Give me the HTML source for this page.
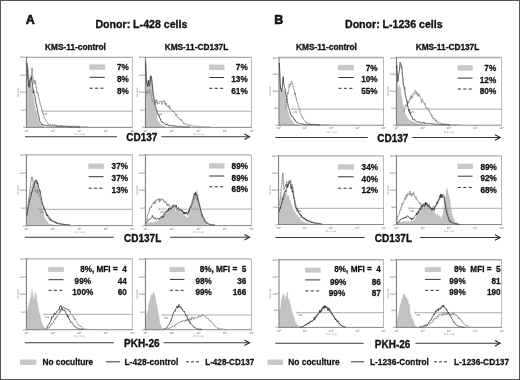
<!DOCTYPE html>
<html><head><meta charset="utf-8"><title>Figure</title>
<style>
html,body{margin:0;padding:0;background:#fff;width:520px;height:380px;overflow:hidden}
svg{display:block}
text{font-family:"Liberation Sans", Arial, Helvetica, sans-serif;} .t{text-rendering:geometricPrecision}
</style></head><body>
<svg width="520" height="380" viewBox="0 0 520 380">
<rect x="0" y="0" width="520" height="380" fill="#fff"/>
<polygon points="26.70,127.40 26.50,60.20 26.92,64.45 27.34,69.18 27.76,71.67 28.18,68.10 28.60,66.79 29.02,75.80 29.44,78.13 29.86,80.23 30.28,74.35 30.70,80.96 31.12,84.71 31.54,86.64 31.96,89.13 32.38,89.13 32.80,94.60 33.22,96.27 33.64,98.10 34.06,102.20 34.48,104.33 34.90,106.72 35.32,107.55 35.74,112.23 36.16,110.04 36.58,112.53 37.00,114.62 37.42,114.99 37.84,118.63 38.26,119.62 38.68,121.62 39.10,122.13 39.52,122.92 39.94,123.27 40.36,124.25 40.78,124.34 41.20,125.35 41.62,125.82 42.04,126.51 42.46,126.33 42.88,126.05 43.30,126.67 43.72,126.43 44.14,126.90 44.56,126.90 44.98,126.77 45.00,127.00 45.00,127.40" fill="#c2c2c2" stroke="#b4b4b4" stroke-width="0.35"/>
<polygon points="145.70,127.40 145.60,58.63 146.02,71.70 146.44,80.50 146.86,84.99 147.28,81.11 147.70,80.25 148.12,81.56 148.54,82.23 148.96,81.36 149.38,76.51 149.80,77.28 150.22,79.09 150.64,74.74 151.06,74.85 151.48,76.58 151.90,78.62 152.32,87.15 152.74,85.42 153.16,93.75 153.58,97.70 154.00,102.81 154.42,104.19 154.84,103.67 155.26,106.76 155.68,110.71 156.10,112.40 156.52,114.19 156.94,117.32 157.36,119.31 157.78,121.97 158.20,121.11 158.62,121.46 159.04,121.94 159.46,123.52 159.88,124.31 160.30,123.87 160.72,124.32 161.14,124.93 161.56,125.03 161.98,125.21 162.40,125.71 162.82,125.90 163.24,127.06 163.66,126.18 164.08,125.99 164.50,126.51 164.92,126.57 165.34,126.84 165.76,126.79 166.00,127.00 166.00,127.40" fill="#c2c2c2" stroke="#b4b4b4" stroke-width="0.35"/>
<polygon points="279.30,125.20 279.30,63.36 279.72,74.41 280.14,82.27 280.56,86.08 280.98,88.76 281.40,88.88 281.82,89.12 282.24,87.05 282.66,89.04 283.08,90.94 283.50,91.17 283.92,89.81 284.34,93.09 284.76,91.49 285.18,96.82 285.60,97.78 286.02,100.13 286.44,104.90 286.86,107.13 287.28,108.02 287.70,110.42 288.12,111.67 288.54,113.41 288.96,114.74 289.38,116.23 289.80,118.20 290.22,118.32 290.64,118.28 291.06,120.21 291.48,119.69 291.90,120.95 292.32,121.03 292.74,121.72 293.16,122.79 293.58,123.87 294.00,123.73 294.42,123.22 294.84,123.87 295.26,124.67 295.68,124.01 296.10,124.00 296.52,124.39 296.94,124.36 297.36,124.77 297.78,124.83 298.00,125.00 298.00,125.20" fill="#c2c2c2" stroke="#b4b4b4" stroke-width="0.35"/>
<polygon points="396.70,125.20 396.60,58.76 397.02,70.84 397.44,79.23 397.86,85.64 398.28,88.66 398.70,86.58 399.12,90.94 399.54,84.03 399.96,89.32 400.38,87.49 400.80,91.98 401.22,97.20 401.64,95.94 402.06,98.34 402.48,101.90 402.90,106.67 403.32,103.93 403.74,107.52 404.16,108.50 404.58,111.94 405.00,114.49 405.42,115.42 405.84,114.53 406.26,114.63 406.68,116.46 407.10,118.04 407.52,117.67 407.94,118.07 408.36,120.00 408.78,119.36 409.20,120.66 409.62,119.87 410.04,120.72 410.46,120.56 410.88,120.85 411.30,121.65 411.72,122.17 412.14,120.88 412.56,122.07 412.98,121.56 413.40,122.08 413.82,122.23 414.24,122.40 414.66,123.21 415.08,121.63 415.50,123.36 415.92,122.89 416.34,123.63 416.76,122.62 417.18,123.46 417.60,124.06 418.02,123.61 418.44,123.76 418.86,124.14 419.28,124.82 419.70,124.62 420.12,124.31 420.54,124.23 420.96,124.78 421.38,124.71 421.80,124.51 422.22,124.86 422.64,124.62 423.06,124.94 423.48,124.68 423.90,124.78 424.32,124.90 424.74,125.12 425.00,125.00 425.00,125.20" fill="#c2c2c2" stroke="#b4b4b4" stroke-width="0.35"/>
<polygon points="26.70,225.60 26.60,216.24 27.02,214.36 27.44,211.89 27.86,210.20 28.28,206.15 28.70,205.50 29.12,205.03 29.54,200.69 29.96,194.85 30.38,189.96 30.80,190.45 31.22,191.20 31.64,185.89 32.06,184.44 32.48,184.52 32.90,184.83 33.32,189.21 33.74,182.06 34.16,185.39 34.58,184.88 35.00,186.26 35.42,184.43 35.84,179.78 36.26,179.97 36.68,182.66 37.10,182.30 37.52,181.92 37.94,183.97 38.36,186.87 38.78,192.34 39.20,190.37 39.62,191.91 40.04,193.88 40.46,198.75 40.88,201.70 41.30,202.04 41.72,204.55 42.14,207.40 42.56,208.85 42.98,210.54 43.40,212.94 43.82,214.44 44.24,218.73 44.66,217.72 45.08,217.68 45.50,219.38 45.92,219.86 46.34,220.92 46.76,221.08 47.18,222.40 47.60,221.76 48.02,223.42 48.44,224.22 48.86,223.91 49.28,223.63 49.70,224.28 50.12,224.11 50.54,224.58 50.96,224.06 51.38,224.75 51.80,224.43 52.22,225.05 52.64,224.78 53.06,224.67 53.48,225.07 53.90,224.94 54.32,225.52 54.74,225.03 55.00,225.30 55.00,225.60" fill="#c2c2c2" stroke="#b4b4b4" stroke-width="0.35"/>
<polygon points="145.70,225.60 145.60,223.06 146.02,222.36 146.44,222.66 146.86,222.79 147.28,222.79 147.70,223.47 148.12,222.78 148.54,223.61 148.96,222.64 149.38,222.91 149.80,223.99 150.22,222.53 150.64,222.92 151.06,221.94 151.48,222.92 151.90,223.08 152.32,222.63 152.74,222.92 153.16,223.09 153.58,222.87 154.00,221.75 154.42,222.92 154.84,222.73 155.26,221.06 155.68,222.42 156.10,221.69 156.52,222.30 156.94,221.38 157.36,221.20 157.78,221.98 158.20,221.28 158.62,221.12 159.04,218.50 159.46,219.67 159.88,218.71 160.30,219.79 160.72,218.91 161.14,216.78 161.56,217.05 161.98,217.06 162.40,214.56 162.82,214.66 163.24,215.26 163.66,214.08 164.08,213.74 164.50,213.55 164.92,211.21 165.34,213.15 165.76,212.48 166.18,211.85 166.60,211.33 167.02,210.64 167.44,210.72 167.86,210.36 168.28,210.47 168.70,210.60 169.12,208.71 169.54,210.67 169.96,210.42 170.38,208.67 170.80,209.38 171.22,209.56 171.64,208.23 172.06,209.05 172.48,209.72 172.90,209.76 173.32,209.65 173.74,209.19 174.16,207.37 174.58,209.73 175.00,211.28 175.42,211.06 175.84,210.49 176.26,210.35 176.68,211.97 177.10,211.37 177.52,210.22 177.94,212.15 178.36,211.32 178.78,211.07 179.20,211.07 179.62,212.76 180.04,211.63 180.46,213.23 180.88,212.44 181.30,211.42 181.72,213.26 182.14,213.49 182.56,214.78 182.98,211.62 183.40,214.05 183.82,216.35 184.24,216.02 184.66,215.28 185.08,216.66 185.50,215.97 185.92,216.23 186.34,218.95 186.76,217.53 187.18,216.88 187.60,218.42 188.02,218.24 188.44,217.38 188.86,217.35 189.28,214.43 189.70,212.54 190.12,213.70 190.54,210.23 190.96,211.88 191.38,209.34 191.80,205.34 192.22,202.92 192.64,200.93 193.06,198.82 193.48,200.33 193.90,197.90 194.32,195.86 194.74,194.78 195.16,193.89 195.58,191.94 196.00,192.90 196.42,190.85 196.84,190.27 197.26,193.10 197.68,194.89 198.10,194.37 198.52,200.52 198.94,203.82 199.36,206.77 199.78,208.41 200.20,209.94 200.62,211.62 201.04,213.91 201.46,214.20 201.88,214.50 202.30,216.92 202.72,217.73 203.14,219.91 203.56,219.42 203.98,222.02 204.40,222.68 204.82,222.75 205.24,223.28 205.66,223.27 206.08,223.61 206.50,224.11 206.92,224.14 207.34,224.75 207.76,225.03 208.00,225.00 208.00,225.60" fill="#c2c2c2" stroke="#b4b4b4" stroke-width="0.35"/>
<polygon points="278.90,224.50 278.90,212.48 279.32,210.32 279.74,207.38 280.16,206.19 280.58,204.67 281.00,200.50 281.42,202.17 281.84,196.21 282.26,200.28 282.68,195.38 283.10,195.70 283.52,197.35 283.94,192.98 284.36,192.72 284.78,193.50 285.20,195.90 285.62,189.36 286.04,191.92 286.46,191.16 286.88,194.35 287.30,196.45 287.72,197.49 288.14,195.53 288.56,195.11 288.98,197.76 289.40,200.33 289.82,199.86 290.24,200.75 290.66,204.47 291.08,203.43 291.50,206.23 291.92,205.29 292.34,207.46 292.76,207.72 293.18,208.82 293.60,210.89 294.02,212.28 294.44,210.25 294.86,213.02 295.28,212.59 295.70,214.08 296.12,214.79 296.54,215.26 296.96,216.90 297.38,214.13 297.80,217.51 298.22,216.79 298.64,218.44 299.06,216.79 299.48,218.57 299.90,219.82 300.32,219.04 300.74,219.42 301.16,220.25 301.58,221.73 302.00,221.40 302.42,220.86 302.84,220.96 303.26,222.35 303.68,222.27 304.10,221.92 304.52,222.70 304.94,222.25 305.36,222.98 305.78,222.48 306.20,222.75 306.62,223.06 307.04,223.61 307.46,222.84 307.88,224.14 308.30,223.63 308.72,223.67 309.14,223.59 309.56,223.93 309.98,223.79 310.40,224.00 310.82,224.06 311.24,224.39 311.66,223.75 312.08,223.96 312.50,224.12 312.92,224.38 313.34,223.95 313.76,224.17 314.00,224.30 314.00,224.50" fill="#c2c2c2" stroke="#b4b4b4" stroke-width="0.35"/>
<polygon points="396.70,224.50 396.60,222.12 397.02,221.54 397.44,222.11 397.86,223.33 398.28,222.86 398.70,221.64 399.12,222.48 399.54,221.78 399.96,222.31 400.38,221.42 400.80,221.89 401.22,222.11 401.64,221.72 402.06,222.75 402.48,222.15 402.90,221.87 403.32,221.02 403.74,222.27 404.16,220.82 404.58,221.01 405.00,220.90 405.42,222.19 405.84,222.48 406.26,221.64 406.68,221.30 407.10,221.73 407.52,221.58 407.94,221.66 408.36,221.10 408.78,221.74 409.20,221.92 409.62,221.88 410.04,221.54 410.46,221.77 410.88,221.21 411.30,220.65 411.72,220.53 412.14,221.95 412.56,221.30 412.98,221.09 413.40,220.75 413.82,220.16 414.24,220.89 414.66,220.05 415.08,218.41 415.50,217.92 415.92,217.97 416.34,215.96 416.76,214.48 417.18,214.36 417.60,214.83 418.02,212.81 418.44,211.38 418.86,209.55 419.28,210.01 419.70,210.33 420.12,205.70 420.54,207.28 420.96,207.84 421.38,205.66 421.80,205.27 422.22,206.09 422.64,207.62 423.06,204.85 423.48,206.02 423.90,206.03 424.32,204.55 424.74,204.44 425.16,205.17 425.58,206.02 426.00,202.85 426.42,205.16 426.84,203.09 427.26,205.13 427.68,206.55 428.10,204.83 428.52,204.93 428.94,206.16 429.36,203.30 429.78,205.50 430.20,207.10 430.62,206.90 431.04,208.76 431.46,209.36 431.88,210.26 432.30,210.63 432.72,211.73 433.14,212.00 433.56,210.99 433.98,210.76 434.40,211.40 434.82,213.69 435.24,214.54 435.66,213.67 436.08,214.42 436.50,215.55 436.92,214.42 437.34,214.22 437.76,215.45 438.18,216.12 438.60,215.34 439.02,217.28 439.44,215.33 439.86,216.54 440.28,217.33 440.70,217.67 441.12,219.19 441.54,217.55 441.96,216.57 442.38,215.58 442.80,214.58 443.22,213.73 443.64,207.44 444.06,206.69 444.48,203.37 444.90,201.11 445.32,197.81 445.74,196.59 446.16,193.20 446.58,189.42 447.00,191.07 447.42,188.52 447.84,192.87 448.26,195.77 448.68,194.31 449.10,197.53 449.52,198.23 449.94,200.53 450.36,203.45 450.78,209.03 451.20,209.88 451.62,210.58 452.04,214.10 452.46,216.46 452.88,216.12 453.30,217.97 453.72,218.18 454.14,219.65 454.56,219.82 454.98,222.57 455.40,222.61 455.82,222.07 456.24,222.43 456.66,222.39 457.08,223.69 457.50,223.60 457.92,224.00 458.34,223.90 458.76,224.46 459.18,224.16 459.60,224.35 460.00,224.40 460.00,224.50" fill="#c2c2c2" stroke="#b4b4b4" stroke-width="0.35"/>
<polygon points="26.70,329.70 26.60,314.15 27.02,311.03 27.44,310.26 27.86,308.69 28.28,306.76 28.70,306.97 29.12,302.92 29.54,304.06 29.96,298.98 30.38,298.24 30.80,300.64 31.22,293.64 31.64,294.01 32.06,289.07 32.48,293.39 32.90,296.60 33.32,297.62 33.74,299.41 34.16,299.41 34.58,297.96 35.00,292.70 35.42,295.28 35.84,295.63 36.26,293.20 36.68,300.51 37.10,301.25 37.52,305.42 37.94,305.52 38.36,307.62 38.78,311.77 39.20,312.86 39.62,315.18 40.04,313.46 40.46,317.84 40.88,318.97 41.30,322.24 41.72,323.03 42.14,322.80 42.56,324.78 42.98,326.39 43.40,325.91 43.82,326.94 44.24,328.09 44.66,328.46 45.08,329.04 45.50,329.24 45.92,329.02 46.34,329.53 46.76,329.58 47.00,329.60 47.00,329.70" fill="#c2c2c2" stroke="#b4b4b4" stroke-width="0.35"/>
<polygon points="145.70,329.70 145.60,319.42 146.02,317.20 146.44,314.66 146.86,313.47 147.28,311.53 147.70,310.51 148.12,309.40 148.54,305.40 148.96,303.65 149.38,302.29 149.80,301.48 150.22,299.25 150.64,299.36 151.06,294.45 151.48,296.62 151.90,294.63 152.32,294.58 152.74,295.93 153.16,293.89 153.58,291.81 154.00,293.50 154.42,293.59 154.84,295.65 155.26,297.51 155.68,299.67 156.10,303.41 156.52,304.07 156.94,304.76 157.36,309.46 157.78,309.83 158.20,313.68 158.62,315.03 159.04,317.58 159.46,320.63 159.88,323.64 160.30,324.38 160.72,324.32 161.14,326.24 161.56,328.31 161.98,327.80 162.40,328.27 162.82,329.05 163.24,329.07 163.66,329.46 164.00,329.60 164.00,329.70" fill="#c2c2c2" stroke="#b4b4b4" stroke-width="0.35"/>
<polygon points="279.30,327.40 279.20,317.17 279.62,311.50 280.04,309.00 280.46,310.32 280.88,306.65 281.30,300.37 281.72,300.87 282.14,296.60 282.56,297.46 282.98,293.16 283.40,293.73 283.82,295.71 284.24,295.54 284.66,300.38 285.08,299.80 285.50,300.37 285.92,296.18 286.34,298.95 286.76,293.11 287.18,293.07 287.60,291.99 288.02,297.96 288.44,300.42 288.86,299.24 289.28,299.84 289.70,302.82 290.12,304.05 290.54,305.93 290.96,306.08 291.38,309.32 291.80,311.33 292.22,312.78 292.64,313.61 293.06,315.79 293.48,316.42 293.90,317.18 294.32,318.31 294.74,321.52 295.16,321.64 295.58,322.40 296.00,322.85 296.42,323.09 296.84,324.67 297.26,325.27 297.68,325.12 298.10,325.71 298.52,326.47 298.94,326.39 299.36,326.40 299.78,326.75 300.20,327.18 300.62,327.07 301.00,327.20 301.00,327.40" fill="#c2c2c2" stroke="#b4b4b4" stroke-width="0.35"/>
<polygon points="396.70,327.40 396.60,325.25 397.02,323.03 397.44,317.63 397.86,317.36 398.28,315.17 398.70,313.10 399.12,311.62 399.54,308.25 399.96,307.30 400.38,305.22 400.80,303.64 401.22,303.41 401.64,298.94 402.06,301.25 402.48,298.74 402.90,298.72 403.32,294.98 403.74,294.30 404.16,293.83 404.58,293.94 405.00,296.62 405.42,297.67 405.84,297.12 406.26,299.15 406.68,297.60 407.10,299.60 407.52,300.43 407.94,299.17 408.36,303.15 408.78,306.05 409.20,303.41 409.62,308.77 410.04,312.59 410.46,314.42 410.88,314.32 411.30,315.72 411.72,319.26 412.14,318.78 412.56,319.35 412.98,319.33 413.40,321.31 413.82,322.60 414.24,323.73 414.66,324.97 415.08,325.46 415.50,325.79 415.92,326.28 416.34,326.69 416.76,327.22 417.18,327.30 417.60,327.17 418.00,327.30 418.00,327.40" fill="#c2c2c2" stroke="#b4b4b4" stroke-width="0.35"/>
<line x1="26.40" y1="57.30" x2="132.40" y2="57.30" stroke="#ababab" stroke-width="1.35" />
<line x1="132.40" y1="57.30" x2="132.40" y2="127.40" stroke="#b2b2b2" stroke-width="0.9" />
<line x1="26.40" y1="127.40" x2="132.40" y2="127.40" stroke="#7a7a7a" stroke-width="0.9" />
<line x1="26.40" y1="56.70" x2="26.40" y2="127.90" stroke="#757575" stroke-width="1.0" />
<line x1="24.60" y1="127.40" x2="26.40" y2="127.40" stroke="#777" stroke-width="0.6" />
<text class="t" x="24.40" y="128.40" font-size="2.7" text-anchor="end" font-weight="normal" fill="#555" >0</text>
<line x1="24.60" y1="109.88" x2="26.40" y2="109.88" stroke="#777" stroke-width="0.6" />
<text class="t" x="24.40" y="110.88" font-size="2.7" text-anchor="end" font-weight="normal" fill="#555" >50</text>
<line x1="24.60" y1="92.35" x2="26.40" y2="92.35" stroke="#777" stroke-width="0.6" />
<text class="t" x="24.40" y="93.35" font-size="2.7" text-anchor="end" font-weight="normal" fill="#555" >100</text>
<line x1="24.60" y1="74.83" x2="26.40" y2="74.83" stroke="#777" stroke-width="0.6" />
<text class="t" x="24.40" y="75.83" font-size="2.7" text-anchor="end" font-weight="normal" fill="#555" >150</text>
<line x1="24.60" y1="57.30" x2="26.40" y2="57.30" stroke="#777" stroke-width="0.6" />
<text class="t" x="24.40" y="58.30" font-size="2.7" text-anchor="end" font-weight="normal" fill="#555" >200</text>
<line x1="26.40" y1="127.40" x2="26.40" y2="128.40" stroke="#888" stroke-width="0.5" />
<text class="t" x="26.40" y="131.60" font-size="3.0" text-anchor="middle" font-weight="normal" fill="#666" >10<tspan font-size="2" dy="-1">0</tspan></text>
<line x1="52.90" y1="127.40" x2="52.90" y2="128.40" stroke="#888" stroke-width="0.5" />
<text class="t" x="52.90" y="131.60" font-size="3.0" text-anchor="middle" font-weight="normal" fill="#666" >10<tspan font-size="2" dy="-1">1</tspan></text>
<line x1="79.40" y1="127.40" x2="79.40" y2="128.40" stroke="#888" stroke-width="0.5" />
<text class="t" x="79.40" y="131.60" font-size="3.0" text-anchor="middle" font-weight="normal" fill="#666" >10<tspan font-size="2" dy="-1">2</tspan></text>
<line x1="105.90" y1="127.40" x2="105.90" y2="128.40" stroke="#888" stroke-width="0.5" />
<text class="t" x="105.90" y="131.60" font-size="3.0" text-anchor="middle" font-weight="normal" fill="#666" >10<tspan font-size="2" dy="-1">3</tspan></text>
<line x1="132.40" y1="127.40" x2="132.40" y2="128.40" stroke="#888" stroke-width="0.5" />
<text class="t" x="132.40" y="131.60" font-size="3.0" text-anchor="middle" font-weight="normal" fill="#666" >10<tspan font-size="2" dy="-1">4</tspan></text>
<text class="t" x="79.40" y="135.00" font-size="2.8" text-anchor="middle" font-weight="normal" fill="#999" >FL1-Log</text>
<text class="t" x="18.90" y="92.35" font-size="3.0" text-anchor="middle" font-weight="normal" fill="#888" transform="rotate(-90 18.90 92.35)">Counts</text>
<line x1="42.00" y1="111.20" x2="132.40" y2="111.20" stroke="#8a8a8a" stroke-width="0.7" />
<line x1="42.00" y1="110.00" x2="42.00" y2="112.40" stroke="#8a8a8a" stroke-width="0.6" />
<text class="t" x="43.50" y="114.80" font-size="2.8" text-anchor="start" font-weight="normal" fill="#666" >M1</text>
<polyline points="27.00,64.76 27.42,68.88 27.84,73.80 28.26,75.13 28.68,80.99 29.10,83.14 29.52,84.40 29.94,86.38 30.36,86.74 30.78,81.97 31.20,77.52 31.62,74.54 32.04,67.78 32.46,74.48 32.88,77.27 33.30,80.11 33.72,80.38 34.14,84.07 34.56,80.77 34.98,80.12 35.40,81.52 35.82,84.89 36.24,87.84 36.66,91.18 37.08,93.32 37.50,91.81 37.92,94.12 38.34,93.91 38.76,98.61 39.18,98.54 39.60,100.96 40.02,102.97 40.44,104.76 40.86,104.75 41.28,106.79 41.70,108.96 42.12,111.96 42.54,111.95 42.96,113.25 43.38,115.32 43.80,116.92 44.22,117.23 44.64,118.58 45.06,119.45 45.48,119.37 45.90,121.53 46.32,121.70 46.74,122.26 47.16,122.57 47.58,122.49 48.00,124.45 48.42,124.11 48.84,124.15 49.26,124.49 49.68,124.54 50.10,125.01 50.52,124.37 50.94,125.10 51.36,125.30 51.78,124.85 52.20,124.80 52.62,124.50 53.04,125.38 53.46,124.96 53.88,124.87 54.30,125.47 54.72,124.89 55.14,124.46 55.56,125.42 55.98,125.59 56.40,125.32 56.82,126.04 57.24,125.86 57.66,125.11 58.08,126.12 58.50,125.82 58.92,125.54 59.34,126.02 59.76,125.65 60.18,126.01 60.60,125.60 61.02,126.20 61.44,125.74 61.86,125.86 62.28,125.90 62.70,126.10 63.12,125.58 63.54,126.02 63.96,125.75 64.38,126.07 64.80,126.39 65.22,126.16 65.64,126.39 66.06,126.09 66.48,125.92 66.90,126.36 67.32,126.14 67.74,126.06 68.16,126.16 68.58,126.16 69.00,126.80 69.42,125.97 69.84,126.66 70.26,125.91 70.68,126.07 71.10,125.89 71.52,126.37 71.94,126.44 72.36,126.44 72.78,126.15 73.20,126.33 73.62,125.90 74.04,126.30 74.46,126.62 74.88,126.50 75.30,126.23 75.72,126.13 76.14,126.21 76.56,126.16 76.98,126.62 77.40,126.14 77.82,126.67 78.24,126.54 78.66,126.61 79.08,126.72 79.50,126.59 79.92,126.26 80.34,126.69 80.76,126.25 81.18,126.52 81.60,126.86 82.02,126.79 82.44,126.71 82.86,126.74 83.28,126.78 83.70,126.60 84.12,126.74 84.54,126.61 84.96,126.68 85.38,126.94 85.80,126.78 86.22,126.89 86.64,126.99 87.06,126.87 87.48,126.82 87.90,126.89 88.00,127.00" fill="none" stroke="#a8a8a8" stroke-width="0.9" stroke-linejoin="round"/>
<polyline points="27.00,64.76 27.42,68.88 27.84,73.80 28.26,75.13 28.68,80.99 29.10,83.14 29.52,84.40 29.94,86.38 30.36,86.74 30.78,81.97 31.20,77.52 31.62,74.54 32.04,67.78 32.46,74.48 32.88,77.27 33.30,80.11 33.72,80.38 34.14,84.07 34.56,80.77 34.98,80.12 35.40,81.52 35.82,84.89 36.24,87.84 36.66,91.18 37.08,93.32 37.50,91.81 37.92,94.12 38.34,93.91 38.76,98.61 39.18,98.54 39.60,100.96 40.02,102.97 40.44,104.76 40.86,104.75 41.28,106.79 41.70,108.96 42.12,111.96 42.54,111.95 42.96,113.25 43.38,115.32 43.80,116.92 44.22,117.23 44.64,118.58 45.06,119.45 45.48,119.37 45.90,121.53 46.32,121.70 46.74,122.26 47.16,122.57 47.58,122.49 48.00,124.45 48.42,124.11 48.84,124.15 49.26,124.49 49.68,124.54 50.10,125.01 50.52,124.37 50.94,125.10 51.36,125.30 51.78,124.85 52.20,124.80 52.62,124.50 53.04,125.38 53.46,124.96 53.88,124.87 54.30,125.47 54.72,124.89 55.14,124.46 55.56,125.42 55.98,125.59 56.40,125.32 56.82,126.04 57.24,125.86 57.66,125.11 58.08,126.12 58.50,125.82 58.92,125.54 59.34,126.02 59.76,125.65 60.18,126.01 60.60,125.60 61.02,126.20 61.44,125.74 61.86,125.86 62.28,125.90 62.70,126.10 63.12,125.58 63.54,126.02 63.96,125.75 64.38,126.07 64.80,126.39 65.22,126.16 65.64,126.39 66.06,126.09 66.48,125.92 66.90,126.36 67.32,126.14 67.74,126.06 68.16,126.16 68.58,126.16 69.00,126.80 69.42,125.97 69.84,126.66 70.26,125.91 70.68,126.07 71.10,125.89 71.52,126.37 71.94,126.44 72.36,126.44 72.78,126.15 73.20,126.33 73.62,125.90 74.04,126.30 74.46,126.62 74.88,126.50 75.30,126.23 75.72,126.13 76.14,126.21 76.56,126.16 76.98,126.62 77.40,126.14 77.82,126.67 78.24,126.54 78.66,126.61 79.08,126.72 79.50,126.59 79.92,126.26 80.34,126.69 80.76,126.25 81.18,126.52 81.60,126.86 82.02,126.79 82.44,126.71 82.86,126.74 83.28,126.78 83.70,126.60 84.12,126.74 84.54,126.61 84.96,126.68 85.38,126.94 85.80,126.78 86.22,126.89 86.64,126.99 87.06,126.87 87.48,126.82 87.90,126.89 88.00,127.00" fill="none" stroke="#6a6a6a" stroke-width="0.6" stroke-dasharray="1.2,1.8"/>
<polyline points="26.60,62.76 27.02,62.73 27.44,72.92 27.86,78.14 28.28,81.47 28.70,86.45 29.12,87.40 29.54,83.06 29.96,81.70 30.38,79.26 30.80,79.49 31.22,79.18 31.64,76.68 32.06,81.59 32.48,84.91 32.90,87.92 33.32,93.21 33.74,90.55 34.16,93.56 34.58,94.68 35.00,96.45 35.42,99.38 35.84,102.83 36.26,104.05 36.68,107.23 37.10,107.65 37.52,109.53 37.94,112.73 38.36,114.89 38.78,115.60 39.20,118.89 39.62,120.06 40.04,122.07 40.46,122.33 40.88,122.92 41.30,123.58 41.72,123.83 42.14,125.22 42.56,124.29 42.98,124.76 43.40,125.11 43.82,125.11 44.24,125.41 44.66,124.87 45.08,125.46 45.50,125.12 45.92,125.59 46.34,125.57 46.76,125.12 47.18,125.95 47.60,126.13 48.02,125.84 48.44,125.57 48.86,126.25 49.28,125.89 49.70,126.09 50.12,125.68 50.54,125.91 50.96,125.96 51.38,126.00 51.80,126.43 52.22,126.01 52.64,126.02 53.06,126.07 53.48,126.23 53.90,125.77 54.32,125.80 54.74,126.02 55.16,126.22 55.58,126.21 56.00,126.23 56.42,126.32 56.84,126.30 57.26,126.68 57.68,126.44 58.10,126.30 58.52,126.45 58.94,126.30 59.36,126.50 59.78,126.42 60.20,126.22 60.62,126.41 61.04,126.99 61.46,126.35 61.88,126.55 62.30,126.28 62.72,126.23 63.14,126.54 63.56,126.82 63.98,126.61 64.40,126.52 64.82,126.39 65.24,126.43 65.66,126.58 66.08,126.74 66.50,126.66 66.92,126.53 67.34,126.54 67.76,126.74 68.18,126.70 68.60,126.75 69.02,126.84 69.44,126.77 69.86,126.87 70.28,126.99 70.70,126.79 71.12,126.94 71.54,126.98 71.96,126.58 72.38,127.12 72.80,126.80 73.22,127.24 73.64,126.95 74.06,126.78 74.48,126.86 74.90,127.00 75.32,126.88 75.74,126.77 76.16,127.00 76.58,126.86 77.00,126.85 77.42,126.97 77.84,127.06 78.26,127.03 78.68,126.99 79.10,126.99 79.52,126.90 79.94,126.97 80.00,127.00" fill="none" stroke="#2a2a2a" stroke-width="0.75" stroke-linejoin="round"/>
<line x1="145.40" y1="57.30" x2="251.50" y2="57.30" stroke="#ababab" stroke-width="1.35" />
<line x1="251.50" y1="57.30" x2="251.50" y2="127.40" stroke="#b2b2b2" stroke-width="0.9" />
<line x1="145.40" y1="127.40" x2="251.50" y2="127.40" stroke="#7a7a7a" stroke-width="0.9" />
<line x1="145.40" y1="56.70" x2="145.40" y2="127.90" stroke="#757575" stroke-width="1.0" />
<line x1="143.60" y1="127.40" x2="145.40" y2="127.40" stroke="#777" stroke-width="0.6" />
<text class="t" x="143.40" y="128.40" font-size="2.7" text-anchor="end" font-weight="normal" fill="#555" >0</text>
<line x1="143.60" y1="109.88" x2="145.40" y2="109.88" stroke="#777" stroke-width="0.6" />
<text class="t" x="143.40" y="110.88" font-size="2.7" text-anchor="end" font-weight="normal" fill="#555" >50</text>
<line x1="143.60" y1="92.35" x2="145.40" y2="92.35" stroke="#777" stroke-width="0.6" />
<text class="t" x="143.40" y="93.35" font-size="2.7" text-anchor="end" font-weight="normal" fill="#555" >100</text>
<line x1="143.60" y1="74.83" x2="145.40" y2="74.83" stroke="#777" stroke-width="0.6" />
<text class="t" x="143.40" y="75.83" font-size="2.7" text-anchor="end" font-weight="normal" fill="#555" >150</text>
<line x1="143.60" y1="57.30" x2="145.40" y2="57.30" stroke="#777" stroke-width="0.6" />
<text class="t" x="143.40" y="58.30" font-size="2.7" text-anchor="end" font-weight="normal" fill="#555" >200</text>
<line x1="145.40" y1="127.40" x2="145.40" y2="128.40" stroke="#888" stroke-width="0.5" />
<text class="t" x="145.40" y="131.60" font-size="3.0" text-anchor="middle" font-weight="normal" fill="#666" >10<tspan font-size="2" dy="-1">0</tspan></text>
<line x1="171.93" y1="127.40" x2="171.93" y2="128.40" stroke="#888" stroke-width="0.5" />
<text class="t" x="171.93" y="131.60" font-size="3.0" text-anchor="middle" font-weight="normal" fill="#666" >10<tspan font-size="2" dy="-1">1</tspan></text>
<line x1="198.45" y1="127.40" x2="198.45" y2="128.40" stroke="#888" stroke-width="0.5" />
<text class="t" x="198.45" y="131.60" font-size="3.0" text-anchor="middle" font-weight="normal" fill="#666" >10<tspan font-size="2" dy="-1">2</tspan></text>
<line x1="224.97" y1="127.40" x2="224.97" y2="128.40" stroke="#888" stroke-width="0.5" />
<text class="t" x="224.97" y="131.60" font-size="3.0" text-anchor="middle" font-weight="normal" fill="#666" >10<tspan font-size="2" dy="-1">3</tspan></text>
<line x1="251.50" y1="127.40" x2="251.50" y2="128.40" stroke="#888" stroke-width="0.5" />
<text class="t" x="251.50" y="131.60" font-size="3.0" text-anchor="middle" font-weight="normal" fill="#666" >10<tspan font-size="2" dy="-1">4</tspan></text>
<text class="t" x="198.45" y="135.00" font-size="2.8" text-anchor="middle" font-weight="normal" fill="#999" >FL1-Log</text>
<text class="t" x="137.90" y="92.35" font-size="3.0" text-anchor="middle" font-weight="normal" fill="#888" transform="rotate(-90 137.90 92.35)">Counts</text>
<line x1="157.00" y1="111.20" x2="251.50" y2="111.20" stroke="#8a8a8a" stroke-width="0.7" />
<line x1="157.00" y1="110.00" x2="157.00" y2="112.40" stroke="#8a8a8a" stroke-width="0.6" />
<text class="t" x="158.50" y="114.80" font-size="2.8" text-anchor="start" font-weight="normal" fill="#666" >M1</text>
<polyline points="146.00,95.61 146.42,92.98 146.84,90.98 147.26,90.67 147.68,91.46 148.10,93.89 148.52,91.30 148.94,89.45 149.36,89.05 149.78,91.51 150.20,92.30 150.62,91.89 151.04,92.76 151.46,97.85 151.88,98.04 152.30,101.90 152.72,100.38 153.14,101.33 153.56,102.00 153.98,103.97 154.40,105.06 154.82,102.97 155.24,102.31 155.66,102.89 156.08,99.32 156.50,102.95 156.92,100.30 157.34,102.40 157.76,104.39 158.18,103.17 158.60,103.36 159.02,103.53 159.44,102.63 159.86,100.94 160.28,102.03 160.70,101.36 161.12,101.59 161.54,101.45 161.96,104.37 162.38,102.77 162.80,101.56 163.22,101.81 163.64,100.24 164.06,100.80 164.48,100.76 164.90,103.82 165.32,102.63 165.74,105.60 166.16,103.48 166.58,104.55 167.00,105.59 167.42,106.68 167.84,106.33 168.26,106.93 168.68,107.28 169.10,105.14 169.52,108.93 169.94,107.52 170.36,108.60 170.78,108.81 171.20,109.72 171.62,109.85 172.04,109.95 172.46,110.71 172.88,111.59 173.30,111.03 173.72,110.98 174.14,112.21 174.56,112.30 174.98,112.57 175.40,115.03 175.82,115.32 176.24,115.37 176.66,113.99 177.08,116.48 177.50,117.31 177.92,117.26 178.34,117.59 178.76,117.71 179.18,118.88 179.60,118.98 180.02,119.77 180.44,119.79 180.86,120.65 181.28,119.13 181.70,120.52 182.12,121.28 182.54,121.15 182.96,121.59 183.38,123.43 183.80,122.92 184.22,124.05 184.64,124.09 185.06,123.49 185.48,124.53 185.90,123.97 186.32,123.86 186.74,124.45 187.16,124.05 187.58,124.78 188.00,125.14 188.42,125.33 188.84,125.01 189.26,125.14 189.68,125.02 190.10,125.93 190.52,125.40 190.94,125.17 191.36,125.27 191.78,125.62 192.20,125.46 192.62,125.54 193.04,126.19 193.46,126.38 193.88,126.45 194.30,126.18 194.72,126.19 195.14,126.34 195.56,126.14 195.98,126.15 196.40,126.16 196.82,126.57 197.24,126.48 197.66,126.24 198.08,126.56 198.50,126.24 198.92,126.23 199.34,126.82 199.76,126.53 200.18,126.74 200.60,126.67 201.02,126.75 201.44,126.77 201.86,126.81 202.28,126.76 202.70,126.52 203.12,126.64 203.54,126.70 203.96,126.69 204.38,126.81 204.80,126.70 205.22,126.67 205.64,126.53 206.06,126.94 206.48,126.70 206.90,126.79 207.32,127.27 207.74,126.85 208.16,127.27 208.58,126.88 209.00,127.15 209.42,126.73 209.84,127.23 210.00,127.00" fill="none" stroke="#a8a8a8" stroke-width="0.9" stroke-linejoin="round"/>
<polyline points="146.00,95.61 146.42,92.98 146.84,90.98 147.26,90.67 147.68,91.46 148.10,93.89 148.52,91.30 148.94,89.45 149.36,89.05 149.78,91.51 150.20,92.30 150.62,91.89 151.04,92.76 151.46,97.85 151.88,98.04 152.30,101.90 152.72,100.38 153.14,101.33 153.56,102.00 153.98,103.97 154.40,105.06 154.82,102.97 155.24,102.31 155.66,102.89 156.08,99.32 156.50,102.95 156.92,100.30 157.34,102.40 157.76,104.39 158.18,103.17 158.60,103.36 159.02,103.53 159.44,102.63 159.86,100.94 160.28,102.03 160.70,101.36 161.12,101.59 161.54,101.45 161.96,104.37 162.38,102.77 162.80,101.56 163.22,101.81 163.64,100.24 164.06,100.80 164.48,100.76 164.90,103.82 165.32,102.63 165.74,105.60 166.16,103.48 166.58,104.55 167.00,105.59 167.42,106.68 167.84,106.33 168.26,106.93 168.68,107.28 169.10,105.14 169.52,108.93 169.94,107.52 170.36,108.60 170.78,108.81 171.20,109.72 171.62,109.85 172.04,109.95 172.46,110.71 172.88,111.59 173.30,111.03 173.72,110.98 174.14,112.21 174.56,112.30 174.98,112.57 175.40,115.03 175.82,115.32 176.24,115.37 176.66,113.99 177.08,116.48 177.50,117.31 177.92,117.26 178.34,117.59 178.76,117.71 179.18,118.88 179.60,118.98 180.02,119.77 180.44,119.79 180.86,120.65 181.28,119.13 181.70,120.52 182.12,121.28 182.54,121.15 182.96,121.59 183.38,123.43 183.80,122.92 184.22,124.05 184.64,124.09 185.06,123.49 185.48,124.53 185.90,123.97 186.32,123.86 186.74,124.45 187.16,124.05 187.58,124.78 188.00,125.14 188.42,125.33 188.84,125.01 189.26,125.14 189.68,125.02 190.10,125.93 190.52,125.40 190.94,125.17 191.36,125.27 191.78,125.62 192.20,125.46 192.62,125.54 193.04,126.19 193.46,126.38 193.88,126.45 194.30,126.18 194.72,126.19 195.14,126.34 195.56,126.14 195.98,126.15 196.40,126.16 196.82,126.57 197.24,126.48 197.66,126.24 198.08,126.56 198.50,126.24 198.92,126.23 199.34,126.82 199.76,126.53 200.18,126.74 200.60,126.67 201.02,126.75 201.44,126.77 201.86,126.81 202.28,126.76 202.70,126.52 203.12,126.64 203.54,126.70 203.96,126.69 204.38,126.81 204.80,126.70 205.22,126.67 205.64,126.53 206.06,126.94 206.48,126.70 206.90,126.79 207.32,127.27 207.74,126.85 208.16,127.27 208.58,126.88 209.00,127.15 209.42,126.73 209.84,127.23 210.00,127.00" fill="none" stroke="#6a6a6a" stroke-width="0.6" stroke-dasharray="1.2,1.8"/>
<polyline points="145.70,62.26 146.12,71.78 146.54,82.55 146.96,83.11 147.38,85.39 147.80,86.79 148.22,81.96 148.64,80.20 149.06,85.18 149.48,86.11 149.90,83.82 150.32,79.27 150.74,75.93 151.16,76.44 151.58,77.58 152.00,81.92 152.42,86.22 152.84,90.41 153.26,95.11 153.68,95.34 154.10,99.40 154.52,101.30 154.94,103.16 155.36,105.60 155.78,106.68 156.20,110.09 156.62,110.21 157.04,111.33 157.46,113.85 157.88,114.15 158.30,115.24 158.72,116.07 159.14,115.60 159.56,117.59 159.98,118.74 160.40,118.71 160.82,120.43 161.24,121.07 161.66,121.96 162.08,122.00 162.50,121.91 162.92,123.01 163.34,122.38 163.76,122.81 164.18,123.65 164.60,123.63 165.02,124.05 165.44,123.89 165.86,124.33 166.28,125.10 166.70,124.18 167.12,124.25 167.54,124.48 167.96,124.48 168.38,125.45 168.80,124.95 169.22,125.81 169.64,125.47 170.06,125.19 170.48,125.57 170.90,125.99 171.32,125.93 171.74,125.43 172.16,125.40 172.58,125.64 173.00,125.47 173.42,126.20 173.84,126.14 174.26,125.57 174.68,126.25 175.10,126.19 175.52,125.78 175.94,126.62 176.36,126.33 176.78,126.47 177.20,126.69 177.62,126.78 178.04,126.38 178.46,126.32 178.88,126.32 179.30,126.46 179.72,126.37 180.14,126.77 180.56,126.57 180.98,126.71 181.40,126.65 181.82,126.57 182.24,126.93 182.66,126.44 183.08,126.81 183.50,126.86 183.92,126.82 184.34,126.64 184.76,126.95 185.18,127.02 185.60,126.83 186.02,126.93 186.44,126.69 186.86,126.51 187.28,126.68 187.70,127.07 188.12,126.95 188.54,126.94 188.96,127.14 189.38,126.83 189.80,126.91 190.00,127.00" fill="none" stroke="#2a2a2a" stroke-width="0.75" stroke-linejoin="round"/>
<line x1="279.00" y1="57.50" x2="383.50" y2="57.50" stroke="#ababab" stroke-width="1.35" />
<line x1="383.50" y1="57.50" x2="383.50" y2="125.20" stroke="#b2b2b2" stroke-width="0.9" />
<line x1="279.00" y1="125.20" x2="383.50" y2="125.20" stroke="#7a7a7a" stroke-width="0.9" />
<line x1="279.00" y1="56.90" x2="279.00" y2="125.70" stroke="#757575" stroke-width="1.0" />
<line x1="277.20" y1="125.20" x2="279.00" y2="125.20" stroke="#777" stroke-width="0.6" />
<text class="t" x="277.00" y="126.20" font-size="2.7" text-anchor="end" font-weight="normal" fill="#555" >0</text>
<line x1="277.20" y1="108.28" x2="279.00" y2="108.28" stroke="#777" stroke-width="0.6" />
<text class="t" x="277.00" y="109.28" font-size="2.7" text-anchor="end" font-weight="normal" fill="#555" >50</text>
<line x1="277.20" y1="91.35" x2="279.00" y2="91.35" stroke="#777" stroke-width="0.6" />
<text class="t" x="277.00" y="92.35" font-size="2.7" text-anchor="end" font-weight="normal" fill="#555" >100</text>
<line x1="277.20" y1="74.42" x2="279.00" y2="74.42" stroke="#777" stroke-width="0.6" />
<text class="t" x="277.00" y="75.42" font-size="2.7" text-anchor="end" font-weight="normal" fill="#555" >150</text>
<line x1="277.20" y1="57.50" x2="279.00" y2="57.50" stroke="#777" stroke-width="0.6" />
<text class="t" x="277.00" y="58.50" font-size="2.7" text-anchor="end" font-weight="normal" fill="#555" >200</text>
<line x1="279.00" y1="125.20" x2="279.00" y2="126.20" stroke="#888" stroke-width="0.5" />
<text class="t" x="279.00" y="129.40" font-size="3.0" text-anchor="middle" font-weight="normal" fill="#666" >10<tspan font-size="2" dy="-1">0</tspan></text>
<line x1="305.12" y1="125.20" x2="305.12" y2="126.20" stroke="#888" stroke-width="0.5" />
<text class="t" x="305.12" y="129.40" font-size="3.0" text-anchor="middle" font-weight="normal" fill="#666" >10<tspan font-size="2" dy="-1">1</tspan></text>
<line x1="331.25" y1="125.20" x2="331.25" y2="126.20" stroke="#888" stroke-width="0.5" />
<text class="t" x="331.25" y="129.40" font-size="3.0" text-anchor="middle" font-weight="normal" fill="#666" >10<tspan font-size="2" dy="-1">2</tspan></text>
<line x1="357.38" y1="125.20" x2="357.38" y2="126.20" stroke="#888" stroke-width="0.5" />
<text class="t" x="357.38" y="129.40" font-size="3.0" text-anchor="middle" font-weight="normal" fill="#666" >10<tspan font-size="2" dy="-1">3</tspan></text>
<line x1="383.50" y1="125.20" x2="383.50" y2="126.20" stroke="#888" stroke-width="0.5" />
<text class="t" x="383.50" y="129.40" font-size="3.0" text-anchor="middle" font-weight="normal" fill="#666" >10<tspan font-size="2" dy="-1">4</tspan></text>
<text class="t" x="331.25" y="132.80" font-size="2.8" text-anchor="middle" font-weight="normal" fill="#999" >FL1-Log</text>
<text class="t" x="271.50" y="91.35" font-size="3.0" text-anchor="middle" font-weight="normal" fill="#888" transform="rotate(-90 271.50 91.35)">Counts</text>
<line x1="292.00" y1="109.20" x2="383.50" y2="109.20" stroke="#8a8a8a" stroke-width="0.7" />
<line x1="292.00" y1="108.00" x2="292.00" y2="110.40" stroke="#8a8a8a" stroke-width="0.6" />
<text class="t" x="293.50" y="112.80" font-size="2.8" text-anchor="start" font-weight="normal" fill="#666" >M1</text>
<polyline points="285.50,108.80 285.92,105.87 286.34,103.36 286.76,100.32 287.18,95.12 287.60,92.40 288.02,93.80 288.44,90.74 288.86,89.52 289.28,83.75 289.70,86.01 290.12,86.31 290.54,85.58 290.96,84.17 291.38,81.11 291.80,82.86 292.22,82.84 292.64,83.91 293.06,86.94 293.48,87.86 293.90,89.77 294.32,90.22 294.74,94.69 295.16,92.86 295.58,96.04 296.00,98.17 296.42,98.01 296.84,101.45 297.26,101.81 297.68,104.09 298.10,105.25 298.52,106.64 298.94,107.31 299.36,109.49 299.78,110.27 300.20,112.44 300.62,113.46 301.04,115.06 301.46,115.48 301.88,115.66 302.30,117.60 302.72,117.44 303.14,118.94 303.56,119.35 303.98,119.38 304.40,119.90 304.82,120.82 305.24,121.25 305.66,122.62 306.08,122.64 306.50,122.33 306.92,123.16 307.34,122.98 307.76,123.15 308.18,123.45 308.60,123.18 309.02,123.99 309.44,123.83 309.86,123.88 310.28,123.97 310.70,124.02 311.12,124.58 311.54,124.31 311.96,124.60 312.38,123.87 312.80,124.21 313.22,124.24 313.64,124.27 314.06,124.84 314.48,124.47 314.90,124.60 315.32,124.52 315.74,124.65 316.16,124.67 316.58,124.74 317.00,124.85 317.42,124.76 317.84,124.71 318.26,124.88 318.68,124.79 319.10,124.81 319.52,124.55 319.94,124.58 320.36,124.90 320.78,124.83 321.20,124.80 321.62,124.94 322.04,124.91 322.46,124.73 322.88,124.85 323.30,124.69 323.72,124.86 324.14,124.90 324.56,124.92 324.98,124.97 325.40,124.88 325.82,124.96 326.24,124.88 326.66,124.98 327.08,125.00 327.50,125.09 327.92,124.98 328.34,124.91 328.76,124.82 329.18,124.84 329.60,125.02 330.00,125.00" fill="none" stroke="#a8a8a8" stroke-width="0.9" stroke-linejoin="round"/>
<polyline points="285.50,108.80 285.92,105.87 286.34,103.36 286.76,100.32 287.18,95.12 287.60,92.40 288.02,93.80 288.44,90.74 288.86,89.52 289.28,83.75 289.70,86.01 290.12,86.31 290.54,85.58 290.96,84.17 291.38,81.11 291.80,82.86 292.22,82.84 292.64,83.91 293.06,86.94 293.48,87.86 293.90,89.77 294.32,90.22 294.74,94.69 295.16,92.86 295.58,96.04 296.00,98.17 296.42,98.01 296.84,101.45 297.26,101.81 297.68,104.09 298.10,105.25 298.52,106.64 298.94,107.31 299.36,109.49 299.78,110.27 300.20,112.44 300.62,113.46 301.04,115.06 301.46,115.48 301.88,115.66 302.30,117.60 302.72,117.44 303.14,118.94 303.56,119.35 303.98,119.38 304.40,119.90 304.82,120.82 305.24,121.25 305.66,122.62 306.08,122.64 306.50,122.33 306.92,123.16 307.34,122.98 307.76,123.15 308.18,123.45 308.60,123.18 309.02,123.99 309.44,123.83 309.86,123.88 310.28,123.97 310.70,124.02 311.12,124.58 311.54,124.31 311.96,124.60 312.38,123.87 312.80,124.21 313.22,124.24 313.64,124.27 314.06,124.84 314.48,124.47 314.90,124.60 315.32,124.52 315.74,124.65 316.16,124.67 316.58,124.74 317.00,124.85 317.42,124.76 317.84,124.71 318.26,124.88 318.68,124.79 319.10,124.81 319.52,124.55 319.94,124.58 320.36,124.90 320.78,124.83 321.20,124.80 321.62,124.94 322.04,124.91 322.46,124.73 322.88,124.85 323.30,124.69 323.72,124.86 324.14,124.90 324.56,124.92 324.98,124.97 325.40,124.88 325.82,124.96 326.24,124.88 326.66,124.98 327.08,125.00 327.50,125.09 327.92,124.98 328.34,124.91 328.76,124.82 329.18,124.84 329.60,125.02 330.00,125.00" fill="none" stroke="#6a6a6a" stroke-width="0.6" stroke-dasharray="1.2,1.8"/>
<polyline points="279.40,62.92 279.82,73.12 280.24,83.53 280.66,88.86 281.08,89.32 281.50,91.36 281.92,89.03 282.34,87.63 282.76,80.80 283.18,76.63 283.60,81.04 284.02,85.32 284.44,87.44 284.86,87.73 285.28,90.66 285.70,93.27 286.12,95.23 286.54,97.92 286.96,98.90 287.38,103.15 287.80,103.61 288.22,106.93 288.64,107.79 289.06,108.40 289.48,110.39 289.90,111.20 290.32,112.96 290.74,114.03 291.16,114.77 291.58,116.46 292.00,116.28 292.42,116.66 292.84,117.12 293.26,117.03 293.68,118.26 294.10,119.76 294.52,119.35 294.94,120.45 295.36,120.11 295.78,121.25 296.20,122.34 296.62,122.19 297.04,122.17 297.46,122.54 297.88,123.13 298.30,122.90 298.72,123.14 299.14,123.42 299.56,123.77 299.98,123.79 300.40,123.78 300.82,123.47 301.24,123.85 301.66,123.88 302.08,124.06 302.50,124.22 302.92,123.92 303.34,123.78 303.76,124.46 304.18,124.28 304.60,124.62 305.02,124.72 305.44,124.31 305.86,124.35 306.28,124.83 306.70,124.44 307.12,124.73 307.54,124.70 307.96,124.55 308.38,124.60 308.80,124.53 309.22,124.41 309.64,124.70 310.06,124.85 310.48,124.60 310.90,124.59 311.32,124.58 311.74,124.88 312.16,124.62 312.58,124.58 313.00,124.71 313.42,124.79 313.84,124.81 314.26,124.76 314.68,124.69 315.10,124.64 315.52,124.93 315.94,124.66 316.36,125.01 316.78,124.65 317.20,124.87 317.62,125.04 318.04,125.05 318.46,124.87 318.88,124.93 319.30,125.01 319.72,124.89 320.00,125.00" fill="none" stroke="#2a2a2a" stroke-width="0.75" stroke-linejoin="round"/>
<line x1="396.40" y1="57.50" x2="501.50" y2="57.50" stroke="#ababab" stroke-width="1.35" />
<line x1="501.50" y1="57.50" x2="501.50" y2="125.20" stroke="#b2b2b2" stroke-width="0.9" />
<line x1="396.40" y1="125.20" x2="501.50" y2="125.20" stroke="#7a7a7a" stroke-width="0.9" />
<line x1="396.40" y1="56.90" x2="396.40" y2="125.70" stroke="#757575" stroke-width="1.0" />
<line x1="394.60" y1="125.20" x2="396.40" y2="125.20" stroke="#777" stroke-width="0.6" />
<text class="t" x="394.40" y="126.20" font-size="2.7" text-anchor="end" font-weight="normal" fill="#555" >0</text>
<line x1="394.60" y1="108.28" x2="396.40" y2="108.28" stroke="#777" stroke-width="0.6" />
<text class="t" x="394.40" y="109.28" font-size="2.7" text-anchor="end" font-weight="normal" fill="#555" >50</text>
<line x1="394.60" y1="91.35" x2="396.40" y2="91.35" stroke="#777" stroke-width="0.6" />
<text class="t" x="394.40" y="92.35" font-size="2.7" text-anchor="end" font-weight="normal" fill="#555" >100</text>
<line x1="394.60" y1="74.42" x2="396.40" y2="74.42" stroke="#777" stroke-width="0.6" />
<text class="t" x="394.40" y="75.42" font-size="2.7" text-anchor="end" font-weight="normal" fill="#555" >150</text>
<line x1="394.60" y1="57.50" x2="396.40" y2="57.50" stroke="#777" stroke-width="0.6" />
<text class="t" x="394.40" y="58.50" font-size="2.7" text-anchor="end" font-weight="normal" fill="#555" >200</text>
<line x1="396.40" y1="125.20" x2="396.40" y2="126.20" stroke="#888" stroke-width="0.5" />
<text class="t" x="396.40" y="129.40" font-size="3.0" text-anchor="middle" font-weight="normal" fill="#666" >10<tspan font-size="2" dy="-1">0</tspan></text>
<line x1="422.67" y1="125.20" x2="422.67" y2="126.20" stroke="#888" stroke-width="0.5" />
<text class="t" x="422.67" y="129.40" font-size="3.0" text-anchor="middle" font-weight="normal" fill="#666" >10<tspan font-size="2" dy="-1">1</tspan></text>
<line x1="448.95" y1="125.20" x2="448.95" y2="126.20" stroke="#888" stroke-width="0.5" />
<text class="t" x="448.95" y="129.40" font-size="3.0" text-anchor="middle" font-weight="normal" fill="#666" >10<tspan font-size="2" dy="-1">2</tspan></text>
<line x1="475.23" y1="125.20" x2="475.23" y2="126.20" stroke="#888" stroke-width="0.5" />
<text class="t" x="475.23" y="129.40" font-size="3.0" text-anchor="middle" font-weight="normal" fill="#666" >10<tspan font-size="2" dy="-1">3</tspan></text>
<line x1="501.50" y1="125.20" x2="501.50" y2="126.20" stroke="#888" stroke-width="0.5" />
<text class="t" x="501.50" y="129.40" font-size="3.0" text-anchor="middle" font-weight="normal" fill="#666" >10<tspan font-size="2" dy="-1">4</tspan></text>
<text class="t" x="448.95" y="132.80" font-size="2.8" text-anchor="middle" font-weight="normal" fill="#999" >FL1-Log</text>
<text class="t" x="388.90" y="91.35" font-size="3.0" text-anchor="middle" font-weight="normal" fill="#888" transform="rotate(-90 388.90 91.35)">Counts</text>
<line x1="409.00" y1="109.20" x2="501.50" y2="109.20" stroke="#8a8a8a" stroke-width="0.7" />
<line x1="409.00" y1="108.00" x2="409.00" y2="110.40" stroke="#8a8a8a" stroke-width="0.6" />
<text class="t" x="410.50" y="112.80" font-size="2.8" text-anchor="start" font-weight="normal" fill="#666" >M1</text>
<polyline points="404.00,112.20 404.42,110.51 404.84,108.33 405.26,107.57 405.68,105.37 406.10,105.73 406.52,106.30 406.94,104.61 407.36,102.22 407.78,100.57 408.20,102.04 408.62,103.42 409.04,101.27 409.46,100.97 409.88,99.29 410.30,97.68 410.72,99.56 411.14,95.31 411.56,97.47 411.98,97.28 412.40,98.03 412.82,96.61 413.24,93.35 413.66,92.94 414.08,93.52 414.50,92.11 414.92,90.65 415.34,90.77 415.76,91.69 416.18,94.51 416.60,92.14 417.02,92.23 417.44,93.17 417.86,96.21 418.28,96.47 418.70,93.86 419.12,93.97 419.54,96.05 419.96,96.84 420.38,97.27 420.80,98.52 421.22,98.91 421.64,102.63 422.06,99.94 422.48,99.40 422.90,101.41 423.32,101.69 423.74,102.87 424.16,102.60 424.58,104.29 425.00,103.17 425.42,106.45 425.84,108.17 426.26,107.65 426.68,107.10 427.10,108.62 427.52,108.20 427.94,109.37 428.36,108.54 428.78,111.04 429.20,110.75 429.62,113.12 430.04,112.93 430.46,112.96 430.88,114.56 431.30,114.50 431.72,116.81 432.14,115.39 432.56,116.53 432.98,118.88 433.40,118.91 433.82,119.13 434.24,117.99 434.66,119.62 435.08,119.98 435.50,121.23 435.92,119.50 436.34,121.19 436.76,120.95 437.18,122.06 437.60,122.06 438.02,122.10 438.44,122.66 438.86,122.54 439.28,123.09 439.70,122.92 440.12,122.92 440.54,123.14 440.96,123.39 441.38,123.38 441.80,123.06 442.22,123.40 442.64,124.23 443.06,123.63 443.48,123.92 443.90,124.18 444.32,123.93 444.74,124.26 445.16,124.80 445.58,124.03 446.00,124.31 446.42,124.27 446.84,124.21 447.26,124.10 447.68,124.59 448.10,124.58 448.52,124.65 448.94,124.53 449.36,124.33 449.78,124.19 450.20,124.36 450.62,124.54 451.04,124.61 451.46,124.68 451.88,124.78 452.30,124.94 452.72,124.86 453.14,124.69 453.56,124.64 453.98,124.85 454.40,124.85 454.82,124.89 455.24,124.74 455.66,124.69 456.08,124.59 456.50,124.89 456.92,125.10 457.34,124.86 457.76,124.73 458.18,124.85 458.60,124.68 459.02,124.96 459.44,125.08 459.86,124.99 460.00,125.00" fill="none" stroke="#a8a8a8" stroke-width="0.9" stroke-linejoin="round"/>
<polyline points="404.00,112.20 404.42,110.51 404.84,108.33 405.26,107.57 405.68,105.37 406.10,105.73 406.52,106.30 406.94,104.61 407.36,102.22 407.78,100.57 408.20,102.04 408.62,103.42 409.04,101.27 409.46,100.97 409.88,99.29 410.30,97.68 410.72,99.56 411.14,95.31 411.56,97.47 411.98,97.28 412.40,98.03 412.82,96.61 413.24,93.35 413.66,92.94 414.08,93.52 414.50,92.11 414.92,90.65 415.34,90.77 415.76,91.69 416.18,94.51 416.60,92.14 417.02,92.23 417.44,93.17 417.86,96.21 418.28,96.47 418.70,93.86 419.12,93.97 419.54,96.05 419.96,96.84 420.38,97.27 420.80,98.52 421.22,98.91 421.64,102.63 422.06,99.94 422.48,99.40 422.90,101.41 423.32,101.69 423.74,102.87 424.16,102.60 424.58,104.29 425.00,103.17 425.42,106.45 425.84,108.17 426.26,107.65 426.68,107.10 427.10,108.62 427.52,108.20 427.94,109.37 428.36,108.54 428.78,111.04 429.20,110.75 429.62,113.12 430.04,112.93 430.46,112.96 430.88,114.56 431.30,114.50 431.72,116.81 432.14,115.39 432.56,116.53 432.98,118.88 433.40,118.91 433.82,119.13 434.24,117.99 434.66,119.62 435.08,119.98 435.50,121.23 435.92,119.50 436.34,121.19 436.76,120.95 437.18,122.06 437.60,122.06 438.02,122.10 438.44,122.66 438.86,122.54 439.28,123.09 439.70,122.92 440.12,122.92 440.54,123.14 440.96,123.39 441.38,123.38 441.80,123.06 442.22,123.40 442.64,124.23 443.06,123.63 443.48,123.92 443.90,124.18 444.32,123.93 444.74,124.26 445.16,124.80 445.58,124.03 446.00,124.31 446.42,124.27 446.84,124.21 447.26,124.10 447.68,124.59 448.10,124.58 448.52,124.65 448.94,124.53 449.36,124.33 449.78,124.19 450.20,124.36 450.62,124.54 451.04,124.61 451.46,124.68 451.88,124.78 452.30,124.94 452.72,124.86 453.14,124.69 453.56,124.64 453.98,124.85 454.40,124.85 454.82,124.89 455.24,124.74 455.66,124.69 456.08,124.59 456.50,124.89 456.92,125.10 457.34,124.86 457.76,124.73 458.18,124.85 458.60,124.68 459.02,124.96 459.44,125.08 459.86,124.99 460.00,125.00" fill="none" stroke="#6a6a6a" stroke-width="0.6" stroke-dasharray="1.2,1.8"/>
<polyline points="396.70,65.14 397.12,72.73 397.54,79.87 397.96,81.66 398.38,76.80 398.80,74.34 399.22,70.81 399.64,70.04 400.06,62.39 400.48,63.91 400.90,64.04 401.32,67.26 401.74,66.44 402.16,71.51 402.58,76.26 403.00,79.62 403.42,85.15 403.84,85.83 404.26,88.48 404.68,87.56 405.10,93.56 405.52,95.42 405.94,96.85 406.36,99.09 406.78,101.63 407.20,102.76 407.62,105.89 408.04,107.21 408.46,110.41 408.88,111.34 409.30,109.95 409.72,113.44 410.14,112.38 410.56,114.02 410.98,115.75 411.40,116.51 411.82,116.36 412.24,117.54 412.66,119.40 413.08,119.70 413.50,119.85 413.92,120.07 414.34,119.20 414.76,119.46 415.18,119.82 415.60,120.83 416.02,121.35 416.44,121.38 416.86,121.55 417.28,121.57 417.70,121.90 418.12,121.82 418.54,122.01 418.96,121.53 419.38,122.85 419.80,122.43 420.22,122.61 420.64,122.90 421.06,122.87 421.48,123.36 421.90,122.50 422.32,122.56 422.74,122.87 423.16,123.10 423.58,123.03 424.00,122.16 424.42,123.50 424.84,123.34 425.26,123.56 425.68,123.05 426.10,123.17 426.52,123.29 426.94,123.68 427.36,123.40 427.78,123.74 428.20,123.71 428.62,123.49 429.04,123.78 429.46,123.80 429.88,123.58 430.30,123.24 430.72,123.71 431.14,124.12 431.56,123.83 431.98,124.07 432.40,123.71 432.82,124.38 433.24,124.02 433.66,124.18 434.08,124.15 434.50,124.11 434.92,124.31 435.34,124.22 435.76,124.19 436.18,124.25 436.60,124.18 437.02,124.41 437.44,124.01 437.86,124.24 438.28,124.56 438.70,124.31 439.12,124.42 439.54,124.58 439.96,124.67 440.38,124.72 440.80,124.78 441.22,124.70 441.64,124.67 442.06,124.58 442.48,124.43 442.90,124.89 443.32,124.82 443.74,124.52 444.16,124.70 444.58,124.84 445.00,124.74 445.42,124.79 445.84,124.66 446.26,124.90 446.68,124.80 447.10,124.69 447.52,124.91 447.94,124.79 448.36,124.92 448.78,125.07 449.20,124.99 449.62,124.96 450.00,125.00" fill="none" stroke="#2a2a2a" stroke-width="0.75" stroke-linejoin="round"/>
<line x1="26.40" y1="154.90" x2="132.40" y2="154.90" stroke="#ababab" stroke-width="1.35" />
<line x1="132.40" y1="154.90" x2="132.40" y2="225.60" stroke="#b2b2b2" stroke-width="0.9" />
<line x1="26.40" y1="225.60" x2="132.40" y2="225.60" stroke="#7a7a7a" stroke-width="0.9" />
<line x1="26.40" y1="154.30" x2="26.40" y2="226.10" stroke="#757575" stroke-width="1.0" />
<line x1="24.60" y1="225.60" x2="26.40" y2="225.60" stroke="#777" stroke-width="0.6" />
<text class="t" x="24.40" y="226.60" font-size="2.7" text-anchor="end" font-weight="normal" fill="#555" >0</text>
<line x1="24.60" y1="207.93" x2="26.40" y2="207.93" stroke="#777" stroke-width="0.6" />
<text class="t" x="24.40" y="208.93" font-size="2.7" text-anchor="end" font-weight="normal" fill="#555" >50</text>
<line x1="24.60" y1="190.25" x2="26.40" y2="190.25" stroke="#777" stroke-width="0.6" />
<text class="t" x="24.40" y="191.25" font-size="2.7" text-anchor="end" font-weight="normal" fill="#555" >100</text>
<line x1="24.60" y1="172.57" x2="26.40" y2="172.57" stroke="#777" stroke-width="0.6" />
<text class="t" x="24.40" y="173.57" font-size="2.7" text-anchor="end" font-weight="normal" fill="#555" >150</text>
<line x1="24.60" y1="154.90" x2="26.40" y2="154.90" stroke="#777" stroke-width="0.6" />
<text class="t" x="24.40" y="155.90" font-size="2.7" text-anchor="end" font-weight="normal" fill="#555" >200</text>
<line x1="26.40" y1="225.60" x2="26.40" y2="226.60" stroke="#888" stroke-width="0.5" />
<text class="t" x="26.40" y="229.80" font-size="3.0" text-anchor="middle" font-weight="normal" fill="#666" >10<tspan font-size="2" dy="-1">0</tspan></text>
<line x1="52.90" y1="225.60" x2="52.90" y2="226.60" stroke="#888" stroke-width="0.5" />
<text class="t" x="52.90" y="229.80" font-size="3.0" text-anchor="middle" font-weight="normal" fill="#666" >10<tspan font-size="2" dy="-1">1</tspan></text>
<line x1="79.40" y1="225.60" x2="79.40" y2="226.60" stroke="#888" stroke-width="0.5" />
<text class="t" x="79.40" y="229.80" font-size="3.0" text-anchor="middle" font-weight="normal" fill="#666" >10<tspan font-size="2" dy="-1">2</tspan></text>
<line x1="105.90" y1="225.60" x2="105.90" y2="226.60" stroke="#888" stroke-width="0.5" />
<text class="t" x="105.90" y="229.80" font-size="3.0" text-anchor="middle" font-weight="normal" fill="#666" >10<tspan font-size="2" dy="-1">3</tspan></text>
<line x1="132.40" y1="225.60" x2="132.40" y2="226.60" stroke="#888" stroke-width="0.5" />
<text class="t" x="132.40" y="229.80" font-size="3.0" text-anchor="middle" font-weight="normal" fill="#666" >10<tspan font-size="2" dy="-1">4</tspan></text>
<text class="t" x="79.40" y="233.20" font-size="2.8" text-anchor="middle" font-weight="normal" fill="#999" >FL1-Log</text>
<text class="t" x="18.90" y="190.25" font-size="3.0" text-anchor="middle" font-weight="normal" fill="#888" transform="rotate(-90 18.90 190.25)">Counts</text>
<line x1="39.00" y1="209.30" x2="132.40" y2="209.30" stroke="#8a8a8a" stroke-width="0.7" />
<line x1="39.00" y1="208.10" x2="39.00" y2="210.50" stroke="#8a8a8a" stroke-width="0.6" />
<text class="t" x="40.50" y="212.90" font-size="2.8" text-anchor="start" font-weight="normal" fill="#666" >M1</text>
<polyline points="27.00,214.37 27.42,210.90 27.84,207.83 28.26,204.07 28.68,199.76 29.10,197.62 29.52,193.74 29.94,190.59 30.36,185.00 30.78,183.30 31.20,180.87 31.62,177.65 32.04,176.81 32.46,180.19 32.88,179.69 33.30,185.13 33.72,184.29 34.14,186.54 34.56,187.26 34.98,189.40 35.40,192.16 35.82,190.87 36.24,191.09 36.66,192.72 37.08,189.34 37.50,193.02 37.92,189.48 38.34,191.79 38.76,194.27 39.18,193.73 39.60,195.78 40.02,197.75 40.44,198.88 40.86,199.24 41.28,201.41 41.70,201.40 42.12,202.28 42.54,202.82 42.96,206.20 43.38,206.61 43.80,207.54 44.22,209.54 44.64,210.00 45.06,211.85 45.48,212.10 45.90,214.55 46.32,213.87 46.74,216.01 47.16,214.87 47.58,216.14 48.00,217.37 48.42,218.26 48.84,218.27 49.26,218.86 49.68,219.30 50.10,218.37 50.52,220.69 50.94,220.22 51.36,220.80 51.78,220.90 52.20,221.36 52.62,221.42 53.04,221.48 53.46,221.85 53.88,222.27 54.30,222.03 54.72,222.02 55.14,222.57 55.56,222.55 55.98,222.62 56.40,223.58 56.82,223.58 57.24,223.48 57.66,222.77 58.08,223.73 58.50,223.97 58.92,223.83 59.34,223.91 59.76,223.91 60.18,224.31 60.60,224.23 61.02,224.44 61.44,224.32 61.86,224.56 62.28,223.78 62.70,224.25 63.12,224.45 63.54,224.25 63.96,224.31 64.38,225.01 64.80,224.63 65.22,225.07 65.64,225.04 66.06,224.71 66.48,225.15 66.90,224.84 67.32,224.73 67.74,224.97 68.16,224.73 68.58,225.03 69.00,225.14 69.42,225.24 69.84,225.11 70.00,225.20" fill="none" stroke="#a8a8a8" stroke-width="0.9" stroke-linejoin="round"/>
<polyline points="27.00,214.37 27.42,210.90 27.84,207.83 28.26,204.07 28.68,199.76 29.10,197.62 29.52,193.74 29.94,190.59 30.36,185.00 30.78,183.30 31.20,180.87 31.62,177.65 32.04,176.81 32.46,180.19 32.88,179.69 33.30,185.13 33.72,184.29 34.14,186.54 34.56,187.26 34.98,189.40 35.40,192.16 35.82,190.87 36.24,191.09 36.66,192.72 37.08,189.34 37.50,193.02 37.92,189.48 38.34,191.79 38.76,194.27 39.18,193.73 39.60,195.78 40.02,197.75 40.44,198.88 40.86,199.24 41.28,201.41 41.70,201.40 42.12,202.28 42.54,202.82 42.96,206.20 43.38,206.61 43.80,207.54 44.22,209.54 44.64,210.00 45.06,211.85 45.48,212.10 45.90,214.55 46.32,213.87 46.74,216.01 47.16,214.87 47.58,216.14 48.00,217.37 48.42,218.26 48.84,218.27 49.26,218.86 49.68,219.30 50.10,218.37 50.52,220.69 50.94,220.22 51.36,220.80 51.78,220.90 52.20,221.36 52.62,221.42 53.04,221.48 53.46,221.85 53.88,222.27 54.30,222.03 54.72,222.02 55.14,222.57 55.56,222.55 55.98,222.62 56.40,223.58 56.82,223.58 57.24,223.48 57.66,222.77 58.08,223.73 58.50,223.97 58.92,223.83 59.34,223.91 59.76,223.91 60.18,224.31 60.60,224.23 61.02,224.44 61.44,224.32 61.86,224.56 62.28,223.78 62.70,224.25 63.12,224.45 63.54,224.25 63.96,224.31 64.38,225.01 64.80,224.63 65.22,225.07 65.64,225.04 66.06,224.71 66.48,225.15 66.90,224.84 67.32,224.73 67.74,224.97 68.16,224.73 68.58,225.03 69.00,225.14 69.42,225.24 69.84,225.11 70.00,225.20" fill="none" stroke="#6a6a6a" stroke-width="0.6" stroke-dasharray="1.2,1.8"/>
<polyline points="26.70,216.10 27.12,213.57 27.54,211.83 27.96,208.29 28.38,205.67 28.80,205.44 29.22,202.05 29.64,199.42 30.06,199.60 30.48,197.02 30.90,196.32 31.32,194.00 31.74,191.84 32.16,192.19 32.58,189.68 33.00,188.05 33.42,186.66 33.84,185.98 34.26,185.96 34.68,181.48 35.10,182.50 35.52,181.02 35.94,179.87 36.36,181.08 36.78,180.66 37.20,184.02 37.62,182.60 38.04,183.33 38.46,187.30 38.88,187.78 39.30,189.66 39.72,191.12 40.14,190.50 40.56,194.24 40.98,196.52 41.40,197.35 41.82,201.46 42.24,203.50 42.66,205.14 43.08,205.30 43.50,205.71 43.92,208.45 44.34,207.83 44.76,209.22 45.18,211.15 45.60,211.39 46.02,212.53 46.44,212.80 46.86,214.26 47.28,216.27 47.70,214.93 48.12,215.44 48.54,216.28 48.96,216.68 49.38,218.81 49.80,218.34 50.22,220.23 50.64,219.91 51.06,219.48 51.48,220.30 51.90,221.17 52.32,221.23 52.74,220.55 53.16,220.67 53.58,221.24 54.00,221.15 54.42,222.46 54.84,222.48 55.26,221.65 55.68,222.73 56.10,222.69 56.52,222.11 56.94,223.44 57.36,223.03 57.78,223.28 58.20,223.68 58.62,223.86 59.04,223.29 59.46,223.29 59.88,223.39 60.30,223.71 60.72,223.64 61.14,224.23 61.56,223.97 61.98,224.19 62.40,224.13 62.82,224.04 63.24,224.56 63.66,223.92 64.08,224.45 64.50,224.55 64.92,224.51 65.34,224.30 65.76,224.73 66.18,224.84 66.60,224.62 67.02,224.78 67.44,224.49 67.86,224.29 68.28,224.55 68.70,225.06 69.12,224.93 69.54,224.95 69.96,225.21 70.00,225.00" fill="none" stroke="#2a2a2a" stroke-width="0.75" stroke-linejoin="round"/>
<line x1="145.40" y1="154.90" x2="251.50" y2="154.90" stroke="#ababab" stroke-width="1.35" />
<line x1="251.50" y1="154.90" x2="251.50" y2="225.60" stroke="#b2b2b2" stroke-width="0.9" />
<line x1="145.40" y1="225.60" x2="251.50" y2="225.60" stroke="#7a7a7a" stroke-width="0.9" />
<line x1="145.40" y1="154.30" x2="145.40" y2="226.10" stroke="#757575" stroke-width="1.0" />
<line x1="143.60" y1="225.60" x2="145.40" y2="225.60" stroke="#777" stroke-width="0.6" />
<text class="t" x="143.40" y="226.60" font-size="2.7" text-anchor="end" font-weight="normal" fill="#555" >0</text>
<line x1="143.60" y1="207.93" x2="145.40" y2="207.93" stroke="#777" stroke-width="0.6" />
<text class="t" x="143.40" y="208.93" font-size="2.7" text-anchor="end" font-weight="normal" fill="#555" >50</text>
<line x1="143.60" y1="190.25" x2="145.40" y2="190.25" stroke="#777" stroke-width="0.6" />
<text class="t" x="143.40" y="191.25" font-size="2.7" text-anchor="end" font-weight="normal" fill="#555" >100</text>
<line x1="143.60" y1="172.57" x2="145.40" y2="172.57" stroke="#777" stroke-width="0.6" />
<text class="t" x="143.40" y="173.57" font-size="2.7" text-anchor="end" font-weight="normal" fill="#555" >150</text>
<line x1="143.60" y1="154.90" x2="145.40" y2="154.90" stroke="#777" stroke-width="0.6" />
<text class="t" x="143.40" y="155.90" font-size="2.7" text-anchor="end" font-weight="normal" fill="#555" >200</text>
<line x1="145.40" y1="225.60" x2="145.40" y2="226.60" stroke="#888" stroke-width="0.5" />
<text class="t" x="145.40" y="229.80" font-size="3.0" text-anchor="middle" font-weight="normal" fill="#666" >10<tspan font-size="2" dy="-1">0</tspan></text>
<line x1="171.93" y1="225.60" x2="171.93" y2="226.60" stroke="#888" stroke-width="0.5" />
<text class="t" x="171.93" y="229.80" font-size="3.0" text-anchor="middle" font-weight="normal" fill="#666" >10<tspan font-size="2" dy="-1">1</tspan></text>
<line x1="198.45" y1="225.60" x2="198.45" y2="226.60" stroke="#888" stroke-width="0.5" />
<text class="t" x="198.45" y="229.80" font-size="3.0" text-anchor="middle" font-weight="normal" fill="#666" >10<tspan font-size="2" dy="-1">2</tspan></text>
<line x1="224.97" y1="225.60" x2="224.97" y2="226.60" stroke="#888" stroke-width="0.5" />
<text class="t" x="224.97" y="229.80" font-size="3.0" text-anchor="middle" font-weight="normal" fill="#666" >10<tspan font-size="2" dy="-1">3</tspan></text>
<line x1="251.50" y1="225.60" x2="251.50" y2="226.60" stroke="#888" stroke-width="0.5" />
<text class="t" x="251.50" y="229.80" font-size="3.0" text-anchor="middle" font-weight="normal" fill="#666" >10<tspan font-size="2" dy="-1">4</tspan></text>
<text class="t" x="198.45" y="233.20" font-size="2.8" text-anchor="middle" font-weight="normal" fill="#999" >FL1-Log</text>
<text class="t" x="137.90" y="190.25" font-size="3.0" text-anchor="middle" font-weight="normal" fill="#888" transform="rotate(-90 137.90 190.25)">Counts</text>
<line x1="159.00" y1="209.10" x2="251.50" y2="209.10" stroke="#8a8a8a" stroke-width="0.7" />
<line x1="159.00" y1="207.90" x2="159.00" y2="210.30" stroke="#8a8a8a" stroke-width="0.6" />
<text class="t" x="160.50" y="212.70" font-size="2.8" text-anchor="start" font-weight="normal" fill="#666" >M1</text>
<polyline points="145.80,222.07 146.22,220.46 146.64,219.68 147.06,217.77 147.48,214.93 147.90,214.77 148.32,213.15 148.74,213.07 149.16,210.24 149.58,210.70 150.00,207.04 150.42,207.04 150.84,206.93 151.26,207.92 151.68,205.63 152.10,205.34 152.52,204.14 152.94,203.10 153.36,203.36 153.78,202.05 154.20,203.96 154.62,201.34 155.04,201.74 155.46,203.38 155.88,199.96 156.30,200.66 156.72,200.30 157.14,200.61 157.56,199.13 157.98,200.14 158.40,199.78 158.82,198.83 159.24,202.12 159.66,198.49 160.08,201.17 160.50,199.62 160.92,198.90 161.34,199.35 161.76,200.47 162.18,200.00 162.60,198.67 163.02,199.67 163.44,200.58 163.86,202.09 164.28,201.04 164.70,202.64 165.12,201.26 165.54,202.08 165.96,201.53 166.38,203.43 166.80,204.91 167.22,205.79 167.64,203.67 168.06,205.93 168.48,205.83 168.90,204.45 169.32,207.01 169.74,207.09 170.16,207.62 170.58,207.08 171.00,206.73 171.42,206.46 171.84,207.49 172.26,207.85 172.68,207.29 173.10,206.04 173.52,208.04 173.94,205.45 174.36,207.08 174.78,207.18 175.20,207.59 175.62,207.47 176.04,207.48 176.46,208.82 176.88,210.34 177.30,209.75 177.72,211.00 178.14,210.41 178.56,208.98 178.98,210.34 179.40,211.12 179.82,209.42 180.24,209.86 180.66,210.18 181.08,210.09 181.50,211.53 181.92,210.27 182.34,211.12 182.76,212.61 183.18,212.67 183.60,213.00 184.02,212.88 184.44,212.11 184.86,214.32 185.28,212.94 185.70,213.20 186.12,212.81 186.54,213.98 186.96,213.77 187.38,214.09 187.80,215.36 188.22,213.07 188.64,211.64 189.06,211.02 189.48,209.39 189.90,207.84 190.32,208.50 190.74,207.67 191.16,207.64 191.58,205.97 192.00,204.77 192.42,204.64 192.84,204.29 193.26,201.33 193.68,201.66 194.10,199.37 194.52,197.15 194.94,198.14 195.36,194.92 195.78,194.43 196.20,195.81 196.62,198.51 197.04,196.78 197.46,198.81 197.88,199.39 198.30,200.18 198.72,201.57 199.14,203.55 199.56,206.64 199.98,208.25 200.40,208.68 200.82,210.44 201.24,212.35 201.66,213.68 202.08,213.56 202.50,215.53 202.92,215.32 203.34,216.50 203.76,218.07 204.18,217.94 204.60,219.52 205.02,221.53 205.44,220.84 205.86,221.82 206.28,222.34 206.70,221.92 207.12,223.12 207.54,222.95 207.96,223.49 208.38,223.86 208.80,224.16 209.22,224.26 209.64,224.52 210.06,224.65 210.48,224.58 210.90,224.71 211.32,224.79 211.74,224.37 212.16,225.03 212.58,224.95 213.00,225.15 213.42,225.01 213.84,225.08 214.26,225.02 214.68,225.18 215.00,225.20" fill="none" stroke="#a8a8a8" stroke-width="0.9" stroke-linejoin="round"/>
<polyline points="145.80,222.07 146.22,220.46 146.64,219.68 147.06,217.77 147.48,214.93 147.90,214.77 148.32,213.15 148.74,213.07 149.16,210.24 149.58,210.70 150.00,207.04 150.42,207.04 150.84,206.93 151.26,207.92 151.68,205.63 152.10,205.34 152.52,204.14 152.94,203.10 153.36,203.36 153.78,202.05 154.20,203.96 154.62,201.34 155.04,201.74 155.46,203.38 155.88,199.96 156.30,200.66 156.72,200.30 157.14,200.61 157.56,199.13 157.98,200.14 158.40,199.78 158.82,198.83 159.24,202.12 159.66,198.49 160.08,201.17 160.50,199.62 160.92,198.90 161.34,199.35 161.76,200.47 162.18,200.00 162.60,198.67 163.02,199.67 163.44,200.58 163.86,202.09 164.28,201.04 164.70,202.64 165.12,201.26 165.54,202.08 165.96,201.53 166.38,203.43 166.80,204.91 167.22,205.79 167.64,203.67 168.06,205.93 168.48,205.83 168.90,204.45 169.32,207.01 169.74,207.09 170.16,207.62 170.58,207.08 171.00,206.73 171.42,206.46 171.84,207.49 172.26,207.85 172.68,207.29 173.10,206.04 173.52,208.04 173.94,205.45 174.36,207.08 174.78,207.18 175.20,207.59 175.62,207.47 176.04,207.48 176.46,208.82 176.88,210.34 177.30,209.75 177.72,211.00 178.14,210.41 178.56,208.98 178.98,210.34 179.40,211.12 179.82,209.42 180.24,209.86 180.66,210.18 181.08,210.09 181.50,211.53 181.92,210.27 182.34,211.12 182.76,212.61 183.18,212.67 183.60,213.00 184.02,212.88 184.44,212.11 184.86,214.32 185.28,212.94 185.70,213.20 186.12,212.81 186.54,213.98 186.96,213.77 187.38,214.09 187.80,215.36 188.22,213.07 188.64,211.64 189.06,211.02 189.48,209.39 189.90,207.84 190.32,208.50 190.74,207.67 191.16,207.64 191.58,205.97 192.00,204.77 192.42,204.64 192.84,204.29 193.26,201.33 193.68,201.66 194.10,199.37 194.52,197.15 194.94,198.14 195.36,194.92 195.78,194.43 196.20,195.81 196.62,198.51 197.04,196.78 197.46,198.81 197.88,199.39 198.30,200.18 198.72,201.57 199.14,203.55 199.56,206.64 199.98,208.25 200.40,208.68 200.82,210.44 201.24,212.35 201.66,213.68 202.08,213.56 202.50,215.53 202.92,215.32 203.34,216.50 203.76,218.07 204.18,217.94 204.60,219.52 205.02,221.53 205.44,220.84 205.86,221.82 206.28,222.34 206.70,221.92 207.12,223.12 207.54,222.95 207.96,223.49 208.38,223.86 208.80,224.16 209.22,224.26 209.64,224.52 210.06,224.65 210.48,224.58 210.90,224.71 211.32,224.79 211.74,224.37 212.16,225.03 212.58,224.95 213.00,225.15 213.42,225.01 213.84,225.08 214.26,225.02 214.68,225.18 215.00,225.20" fill="none" stroke="#6a6a6a" stroke-width="0.6" stroke-dasharray="1.2,1.8"/>
<polyline points="145.70,222.89 146.12,222.95 146.54,222.54 146.96,222.16 147.38,221.59 147.80,220.38 148.22,220.67 148.64,219.47 149.06,219.03 149.48,219.29 149.90,219.51 150.32,218.83 150.74,218.56 151.16,218.51 151.58,217.74 152.00,217.14 152.42,215.44 152.84,216.82 153.26,217.21 153.68,218.50 154.10,218.31 154.52,218.31 154.94,217.86 155.36,217.79 155.78,219.19 156.20,219.49 156.62,219.41 157.04,219.31 157.46,218.57 157.88,218.59 158.30,218.81 158.72,218.31 159.14,218.44 159.56,218.98 159.98,219.20 160.40,217.35 160.82,217.06 161.24,216.92 161.66,217.09 162.08,216.14 162.50,217.50 162.92,216.60 163.34,217.38 163.76,216.13 164.18,215.10 164.60,213.87 165.02,213.45 165.44,211.79 165.86,211.52 166.28,211.14 166.70,211.75 167.12,210.96 167.54,211.08 167.96,209.88 168.38,211.02 168.80,208.27 169.22,209.60 169.64,208.09 170.06,208.48 170.48,208.72 170.90,208.24 171.32,209.08 171.74,207.35 172.16,207.17 172.58,205.81 173.00,204.92 173.42,204.86 173.84,205.09 174.26,204.82 174.68,205.22 175.10,205.00 175.52,206.61 175.94,206.72 176.36,205.32 176.78,207.44 177.20,208.05 177.62,208.89 178.04,208.23 178.46,207.49 178.88,208.40 179.30,208.84 179.72,209.71 180.14,209.90 180.56,209.33 180.98,210.19 181.40,211.26 181.82,210.32 182.24,210.32 182.66,211.62 183.08,211.31 183.50,212.41 183.92,214.15 184.34,212.62 184.76,211.98 185.18,214.00 185.60,212.97 186.02,213.11 186.44,211.95 186.86,213.12 187.28,213.59 187.70,213.92 188.12,212.90 188.54,210.63 188.96,212.34 189.38,210.88 189.80,208.90 190.22,206.84 190.64,207.26 191.06,205.14 191.48,204.21 191.90,203.39 192.32,200.47 192.74,199.79 193.16,198.39 193.58,195.80 194.00,194.53 194.42,193.26 194.84,195.22 195.26,194.38 195.68,192.36 196.10,195.10 196.52,194.60 196.94,196.34 197.36,197.01 197.78,199.94 198.20,199.88 198.62,202.39 199.04,202.95 199.46,205.60 199.88,205.35 200.30,208.69 200.72,210.08 201.14,212.37 201.56,213.32 201.98,216.39 202.40,216.53 202.82,217.59 203.24,217.85 203.66,218.23 204.08,220.22 204.50,221.55 204.92,221.82 205.34,222.22 205.76,222.33 206.18,223.14 206.60,223.18 207.02,223.00 207.44,223.25 207.86,223.34 208.28,223.92 208.70,224.28 209.12,224.40 209.54,224.24 209.96,224.57 210.38,224.42 210.80,224.95 211.22,225.13 211.64,225.14 212.06,224.83 212.48,224.94 212.90,224.55 213.32,225.13 213.74,225.14 214.16,224.93 214.58,225.04 215.00,225.25 215.00,225.20" fill="none" stroke="#2a2a2a" stroke-width="0.75" stroke-linejoin="round"/>
<line x1="278.60" y1="155.80" x2="383.50" y2="155.80" stroke="#ababab" stroke-width="1.35" />
<line x1="383.50" y1="155.80" x2="383.50" y2="224.50" stroke="#b2b2b2" stroke-width="0.9" />
<line x1="278.60" y1="224.50" x2="383.50" y2="224.50" stroke="#7a7a7a" stroke-width="0.9" />
<line x1="278.60" y1="155.20" x2="278.60" y2="225.00" stroke="#757575" stroke-width="1.0" />
<line x1="276.80" y1="224.50" x2="278.60" y2="224.50" stroke="#777" stroke-width="0.6" />
<text class="t" x="276.60" y="225.50" font-size="2.7" text-anchor="end" font-weight="normal" fill="#555" >0</text>
<line x1="276.80" y1="207.32" x2="278.60" y2="207.32" stroke="#777" stroke-width="0.6" />
<text class="t" x="276.60" y="208.32" font-size="2.7" text-anchor="end" font-weight="normal" fill="#555" >50</text>
<line x1="276.80" y1="190.15" x2="278.60" y2="190.15" stroke="#777" stroke-width="0.6" />
<text class="t" x="276.60" y="191.15" font-size="2.7" text-anchor="end" font-weight="normal" fill="#555" >100</text>
<line x1="276.80" y1="172.98" x2="278.60" y2="172.98" stroke="#777" stroke-width="0.6" />
<text class="t" x="276.60" y="173.98" font-size="2.7" text-anchor="end" font-weight="normal" fill="#555" >150</text>
<line x1="276.80" y1="155.80" x2="278.60" y2="155.80" stroke="#777" stroke-width="0.6" />
<text class="t" x="276.60" y="156.80" font-size="2.7" text-anchor="end" font-weight="normal" fill="#555" >200</text>
<line x1="278.60" y1="224.50" x2="278.60" y2="225.50" stroke="#888" stroke-width="0.5" />
<text class="t" x="278.60" y="228.70" font-size="3.0" text-anchor="middle" font-weight="normal" fill="#666" >10<tspan font-size="2" dy="-1">0</tspan></text>
<line x1="304.83" y1="224.50" x2="304.83" y2="225.50" stroke="#888" stroke-width="0.5" />
<text class="t" x="304.83" y="228.70" font-size="3.0" text-anchor="middle" font-weight="normal" fill="#666" >10<tspan font-size="2" dy="-1">1</tspan></text>
<line x1="331.05" y1="224.50" x2="331.05" y2="225.50" stroke="#888" stroke-width="0.5" />
<text class="t" x="331.05" y="228.70" font-size="3.0" text-anchor="middle" font-weight="normal" fill="#666" >10<tspan font-size="2" dy="-1">2</tspan></text>
<line x1="357.27" y1="224.50" x2="357.27" y2="225.50" stroke="#888" stroke-width="0.5" />
<text class="t" x="357.27" y="228.70" font-size="3.0" text-anchor="middle" font-weight="normal" fill="#666" >10<tspan font-size="2" dy="-1">3</tspan></text>
<line x1="383.50" y1="224.50" x2="383.50" y2="225.50" stroke="#888" stroke-width="0.5" />
<text class="t" x="383.50" y="228.70" font-size="3.0" text-anchor="middle" font-weight="normal" fill="#666" >10<tspan font-size="2" dy="-1">4</tspan></text>
<text class="t" x="331.05" y="232.10" font-size="2.8" text-anchor="middle" font-weight="normal" fill="#999" >FL1-Log</text>
<text class="t" x="271.10" y="190.15" font-size="3.0" text-anchor="middle" font-weight="normal" fill="#888" transform="rotate(-90 271.10 190.15)">Counts</text>
<line x1="296.00" y1="208.30" x2="383.50" y2="208.30" stroke="#8a8a8a" stroke-width="0.7" />
<line x1="296.00" y1="207.10" x2="296.00" y2="209.50" stroke="#8a8a8a" stroke-width="0.6" />
<text class="t" x="297.50" y="211.90" font-size="2.8" text-anchor="start" font-weight="normal" fill="#666" >M1</text>
<polyline points="279.50,205.25 279.92,202.00 280.34,198.15 280.76,195.43 281.18,189.02 281.60,185.90 282.02,182.63 282.44,176.06 282.86,172.86 283.28,178.82 283.70,185.54 284.12,189.70 284.54,187.37 284.96,187.35 285.38,185.64 285.80,183.97 286.22,186.45 286.64,181.52 287.06,184.33 287.48,184.29 287.90,185.37 288.32,184.06 288.74,180.80 289.16,181.02 289.58,182.31 290.00,181.03 290.42,179.76 290.84,181.42 291.26,183.15 291.68,186.52 292.10,184.51 292.52,186.34 292.94,188.39 293.36,192.64 293.78,195.41 294.20,196.20 294.62,199.07 295.04,202.31 295.46,203.99 295.88,205.13 296.30,207.00 296.72,208.15 297.14,211.72 297.56,210.01 297.98,209.98 298.40,211.84 298.82,212.43 299.24,213.49 299.66,213.39 300.08,214.66 300.50,214.00 300.92,216.32 301.34,217.56 301.76,217.32 302.18,217.00 302.60,217.90 303.02,217.56 303.44,218.24 303.86,217.54 304.28,218.93 304.70,218.55 305.12,219.85 305.54,219.55 305.96,219.51 306.38,220.31 306.80,220.05 307.22,221.30 307.64,220.15 308.06,220.66 308.48,221.97 308.90,221.76 309.32,221.66 309.74,220.68 310.16,221.71 310.58,221.84 311.00,222.61 311.42,221.23 311.84,222.42 312.26,222.17 312.68,222.86 313.10,222.74 313.52,222.64 313.94,222.94 314.36,222.71 314.78,223.10 315.20,222.93 315.62,222.91 316.04,223.07 316.46,223.25 316.88,223.22 317.30,222.92 317.72,223.18 318.14,223.86 318.56,223.34 318.98,223.61 319.40,223.85 319.82,223.67 320.24,223.96 320.66,224.41 321.08,223.84 321.50,224.08 321.92,224.07 322.00,224.00" fill="none" stroke="#a8a8a8" stroke-width="0.9" stroke-linejoin="round"/>
<polyline points="279.50,205.25 279.92,202.00 280.34,198.15 280.76,195.43 281.18,189.02 281.60,185.90 282.02,182.63 282.44,176.06 282.86,172.86 283.28,178.82 283.70,185.54 284.12,189.70 284.54,187.37 284.96,187.35 285.38,185.64 285.80,183.97 286.22,186.45 286.64,181.52 287.06,184.33 287.48,184.29 287.90,185.37 288.32,184.06 288.74,180.80 289.16,181.02 289.58,182.31 290.00,181.03 290.42,179.76 290.84,181.42 291.26,183.15 291.68,186.52 292.10,184.51 292.52,186.34 292.94,188.39 293.36,192.64 293.78,195.41 294.20,196.20 294.62,199.07 295.04,202.31 295.46,203.99 295.88,205.13 296.30,207.00 296.72,208.15 297.14,211.72 297.56,210.01 297.98,209.98 298.40,211.84 298.82,212.43 299.24,213.49 299.66,213.39 300.08,214.66 300.50,214.00 300.92,216.32 301.34,217.56 301.76,217.32 302.18,217.00 302.60,217.90 303.02,217.56 303.44,218.24 303.86,217.54 304.28,218.93 304.70,218.55 305.12,219.85 305.54,219.55 305.96,219.51 306.38,220.31 306.80,220.05 307.22,221.30 307.64,220.15 308.06,220.66 308.48,221.97 308.90,221.76 309.32,221.66 309.74,220.68 310.16,221.71 310.58,221.84 311.00,222.61 311.42,221.23 311.84,222.42 312.26,222.17 312.68,222.86 313.10,222.74 313.52,222.64 313.94,222.94 314.36,222.71 314.78,223.10 315.20,222.93 315.62,222.91 316.04,223.07 316.46,223.25 316.88,223.22 317.30,222.92 317.72,223.18 318.14,223.86 318.56,223.34 318.98,223.61 319.40,223.85 319.82,223.67 320.24,223.96 320.66,224.41 321.08,223.84 321.50,224.08 321.92,224.07 322.00,224.00" fill="none" stroke="#6a6a6a" stroke-width="0.6" stroke-dasharray="1.2,1.8"/>
<polyline points="279.20,212.03 279.62,209.65 280.04,207.41 280.46,208.58 280.88,205.67 281.30,204.61 281.72,203.04 282.14,203.03 282.56,198.33 282.98,199.52 283.40,197.26 283.82,196.94 284.24,192.74 284.66,191.92 285.08,191.41 285.50,190.53 285.92,191.61 286.34,189.14 286.76,188.72 287.18,184.68 287.60,187.78 288.02,186.58 288.44,184.61 288.86,183.55 289.28,183.13 289.70,181.44 290.12,184.15 290.54,184.36 290.96,188.18 291.38,188.96 291.80,186.51 292.22,192.09 292.64,190.47 293.06,193.33 293.48,196.45 293.90,198.74 294.32,199.50 294.74,202.24 295.16,205.95 295.58,207.06 296.00,208.37 296.42,209.09 296.84,207.97 297.26,208.75 297.68,209.71 298.10,211.78 298.52,213.00 298.94,213.31 299.36,213.85 299.78,214.15 300.20,214.96 300.62,215.09 301.04,215.66 301.46,215.14 301.88,217.51 302.30,216.90 302.72,217.37 303.14,218.08 303.56,218.26 303.98,219.28 304.40,218.15 304.82,218.50 305.24,219.21 305.66,219.81 306.08,219.96 306.50,218.97 306.92,220.93 307.34,220.76 307.76,221.13 308.18,220.47 308.60,220.71 309.02,221.00 309.44,221.63 309.86,221.37 310.28,221.93 310.70,222.00 311.12,221.82 311.54,222.30 311.96,222.43 312.38,222.30 312.80,222.02 313.22,222.60 313.64,223.09 314.06,222.77 314.48,223.05 314.90,222.65 315.32,223.43 315.74,223.04 316.16,223.23 316.58,223.21 317.00,223.18 317.42,223.42 317.84,223.34 318.26,223.35 318.68,223.45 319.10,223.42 319.52,223.69 319.94,223.33 320.36,223.59 320.78,223.94 321.20,223.75 321.62,223.88 322.00,224.00" fill="none" stroke="#2a2a2a" stroke-width="0.75" stroke-linejoin="round"/>
<line x1="396.40" y1="155.80" x2="501.50" y2="155.80" stroke="#ababab" stroke-width="1.35" />
<line x1="501.50" y1="155.80" x2="501.50" y2="224.50" stroke="#b2b2b2" stroke-width="0.9" />
<line x1="396.40" y1="224.50" x2="501.50" y2="224.50" stroke="#7a7a7a" stroke-width="0.9" />
<line x1="396.40" y1="155.20" x2="396.40" y2="225.00" stroke="#757575" stroke-width="1.0" />
<line x1="394.60" y1="224.50" x2="396.40" y2="224.50" stroke="#777" stroke-width="0.6" />
<text class="t" x="394.40" y="225.50" font-size="2.7" text-anchor="end" font-weight="normal" fill="#555" >0</text>
<line x1="394.60" y1="207.32" x2="396.40" y2="207.32" stroke="#777" stroke-width="0.6" />
<text class="t" x="394.40" y="208.32" font-size="2.7" text-anchor="end" font-weight="normal" fill="#555" >50</text>
<line x1="394.60" y1="190.15" x2="396.40" y2="190.15" stroke="#777" stroke-width="0.6" />
<text class="t" x="394.40" y="191.15" font-size="2.7" text-anchor="end" font-weight="normal" fill="#555" >100</text>
<line x1="394.60" y1="172.98" x2="396.40" y2="172.98" stroke="#777" stroke-width="0.6" />
<text class="t" x="394.40" y="173.98" font-size="2.7" text-anchor="end" font-weight="normal" fill="#555" >150</text>
<line x1="394.60" y1="155.80" x2="396.40" y2="155.80" stroke="#777" stroke-width="0.6" />
<text class="t" x="394.40" y="156.80" font-size="2.7" text-anchor="end" font-weight="normal" fill="#555" >200</text>
<line x1="396.40" y1="224.50" x2="396.40" y2="225.50" stroke="#888" stroke-width="0.5" />
<text class="t" x="396.40" y="228.70" font-size="3.0" text-anchor="middle" font-weight="normal" fill="#666" >10<tspan font-size="2" dy="-1">0</tspan></text>
<line x1="422.67" y1="224.50" x2="422.67" y2="225.50" stroke="#888" stroke-width="0.5" />
<text class="t" x="422.67" y="228.70" font-size="3.0" text-anchor="middle" font-weight="normal" fill="#666" >10<tspan font-size="2" dy="-1">1</tspan></text>
<line x1="448.95" y1="224.50" x2="448.95" y2="225.50" stroke="#888" stroke-width="0.5" />
<text class="t" x="448.95" y="228.70" font-size="3.0" text-anchor="middle" font-weight="normal" fill="#666" >10<tspan font-size="2" dy="-1">2</tspan></text>
<line x1="475.23" y1="224.50" x2="475.23" y2="225.50" stroke="#888" stroke-width="0.5" />
<text class="t" x="475.23" y="228.70" font-size="3.0" text-anchor="middle" font-weight="normal" fill="#666" >10<tspan font-size="2" dy="-1">3</tspan></text>
<line x1="501.50" y1="224.50" x2="501.50" y2="225.50" stroke="#888" stroke-width="0.5" />
<text class="t" x="501.50" y="228.70" font-size="3.0" text-anchor="middle" font-weight="normal" fill="#666" >10<tspan font-size="2" dy="-1">4</tspan></text>
<text class="t" x="448.95" y="232.10" font-size="2.8" text-anchor="middle" font-weight="normal" fill="#999" >FL1-Log</text>
<text class="t" x="388.90" y="190.15" font-size="3.0" text-anchor="middle" font-weight="normal" fill="#888" transform="rotate(-90 388.90 190.15)">Counts</text>
<line x1="409.00" y1="208.30" x2="501.50" y2="208.30" stroke="#8a8a8a" stroke-width="0.7" />
<line x1="409.00" y1="207.10" x2="409.00" y2="209.50" stroke="#8a8a8a" stroke-width="0.6" />
<text class="t" x="410.50" y="211.90" font-size="2.8" text-anchor="start" font-weight="normal" fill="#666" >M1</text>
<polyline points="396.70,223.03 397.12,220.23 397.54,218.19 397.96,216.04 398.38,214.79 398.80,214.67 399.22,212.46 399.64,212.70 400.06,209.85 400.48,209.16 400.90,210.11 401.32,206.18 401.74,206.08 402.16,203.18 402.58,204.34 403.00,203.81 403.42,201.99 403.84,201.95 404.26,201.65 404.68,200.52 405.10,197.45 405.52,199.31 405.94,198.25 406.36,194.20 406.78,196.81 407.20,194.93 407.62,195.90 408.04,193.64 408.46,192.96 408.88,194.36 409.30,193.80 409.72,194.67 410.14,191.18 410.56,194.35 410.98,193.86 411.40,196.56 411.82,195.86 412.24,193.33 412.66,194.22 413.08,194.71 413.50,191.89 413.92,193.61 414.34,195.85 414.76,195.91 415.18,196.96 415.60,198.09 416.02,196.72 416.44,199.60 416.86,199.74 417.28,199.92 417.70,200.27 418.12,200.61 418.54,201.66 418.96,202.30 419.38,203.24 419.80,203.98 420.22,202.87 420.64,204.99 421.06,205.26 421.48,204.32 421.90,204.73 422.32,204.68 422.74,203.39 423.16,203.87 423.58,204.22 424.00,204.07 424.42,204.17 424.84,203.99 425.26,202.61 425.68,204.51 426.10,205.76 426.52,205.54 426.94,205.04 427.36,205.01 427.78,206.46 428.20,206.10 428.62,205.36 429.04,207.18 429.46,206.71 429.88,206.74 430.30,206.96 430.72,208.54 431.14,207.84 431.56,209.15 431.98,208.54 432.40,207.75 432.82,209.26 433.24,209.06 433.66,209.39 434.08,205.84 434.50,207.16 434.92,208.47 435.34,207.40 435.76,205.48 436.18,205.46 436.60,203.21 437.02,201.95 437.44,204.01 437.86,201.14 438.28,199.32 438.70,200.43 439.12,199.35 439.54,198.57 439.96,198.80 440.38,195.50 440.80,193.93 441.22,196.34 441.64,194.23 442.06,197.44 442.48,196.33 442.90,194.68 443.32,194.74 443.74,195.28 444.16,195.71 444.58,199.15 445.00,200.97 445.42,202.75 445.84,205.04 446.26,207.43 446.68,209.27 447.10,212.49 447.52,213.62 447.94,214.52 448.36,216.70 448.78,218.07 449.20,218.26 449.62,220.34 450.04,220.91 450.46,221.56 450.88,221.83 451.30,222.08 451.72,222.37 452.14,222.86 452.56,222.97 452.98,222.80 453.40,223.22 453.82,223.19 454.24,223.60 454.66,223.29 455.08,223.95 455.50,224.00 455.92,223.85 456.34,223.95 456.76,223.95 457.18,224.07 457.60,224.24 458.00,224.30" fill="none" stroke="#a8a8a8" stroke-width="0.9" stroke-linejoin="round"/>
<polyline points="396.70,223.03 397.12,220.23 397.54,218.19 397.96,216.04 398.38,214.79 398.80,214.67 399.22,212.46 399.64,212.70 400.06,209.85 400.48,209.16 400.90,210.11 401.32,206.18 401.74,206.08 402.16,203.18 402.58,204.34 403.00,203.81 403.42,201.99 403.84,201.95 404.26,201.65 404.68,200.52 405.10,197.45 405.52,199.31 405.94,198.25 406.36,194.20 406.78,196.81 407.20,194.93 407.62,195.90 408.04,193.64 408.46,192.96 408.88,194.36 409.30,193.80 409.72,194.67 410.14,191.18 410.56,194.35 410.98,193.86 411.40,196.56 411.82,195.86 412.24,193.33 412.66,194.22 413.08,194.71 413.50,191.89 413.92,193.61 414.34,195.85 414.76,195.91 415.18,196.96 415.60,198.09 416.02,196.72 416.44,199.60 416.86,199.74 417.28,199.92 417.70,200.27 418.12,200.61 418.54,201.66 418.96,202.30 419.38,203.24 419.80,203.98 420.22,202.87 420.64,204.99 421.06,205.26 421.48,204.32 421.90,204.73 422.32,204.68 422.74,203.39 423.16,203.87 423.58,204.22 424.00,204.07 424.42,204.17 424.84,203.99 425.26,202.61 425.68,204.51 426.10,205.76 426.52,205.54 426.94,205.04 427.36,205.01 427.78,206.46 428.20,206.10 428.62,205.36 429.04,207.18 429.46,206.71 429.88,206.74 430.30,206.96 430.72,208.54 431.14,207.84 431.56,209.15 431.98,208.54 432.40,207.75 432.82,209.26 433.24,209.06 433.66,209.39 434.08,205.84 434.50,207.16 434.92,208.47 435.34,207.40 435.76,205.48 436.18,205.46 436.60,203.21 437.02,201.95 437.44,204.01 437.86,201.14 438.28,199.32 438.70,200.43 439.12,199.35 439.54,198.57 439.96,198.80 440.38,195.50 440.80,193.93 441.22,196.34 441.64,194.23 442.06,197.44 442.48,196.33 442.90,194.68 443.32,194.74 443.74,195.28 444.16,195.71 444.58,199.15 445.00,200.97 445.42,202.75 445.84,205.04 446.26,207.43 446.68,209.27 447.10,212.49 447.52,213.62 447.94,214.52 448.36,216.70 448.78,218.07 449.20,218.26 449.62,220.34 450.04,220.91 450.46,221.56 450.88,221.83 451.30,222.08 451.72,222.37 452.14,222.86 452.56,222.97 452.98,222.80 453.40,223.22 453.82,223.19 454.24,223.60 454.66,223.29 455.08,223.95 455.50,224.00 455.92,223.85 456.34,223.95 456.76,223.95 457.18,224.07 457.60,224.24 458.00,224.30" fill="none" stroke="#6a6a6a" stroke-width="0.6" stroke-dasharray="1.2,1.8"/>
<polyline points="396.70,223.67 397.12,223.03 397.54,222.87 397.96,222.03 398.38,221.97 398.80,221.25 399.22,220.97 399.64,221.15 400.06,220.19 400.48,219.48 400.90,219.70 401.32,218.99 401.74,218.49 402.16,218.97 402.58,218.47 403.00,219.24 403.42,218.38 403.84,218.32 404.26,217.17 404.68,217.73 405.10,218.16 405.52,217.39 405.94,216.79 406.36,217.69 406.78,216.46 407.20,215.75 407.62,216.26 408.04,216.20 408.46,216.37 408.88,217.14 409.30,218.17 409.72,217.78 410.14,218.00 410.56,218.19 410.98,217.87 411.40,219.84 411.82,218.01 412.24,218.24 412.66,219.42 413.08,218.87 413.50,217.85 413.92,217.62 414.34,216.44 414.76,216.35 415.18,215.98 415.60,215.65 416.02,215.04 416.44,212.80 416.86,214.69 417.28,213.11 417.70,213.62 418.12,211.61 418.54,212.52 418.96,209.87 419.38,210.18 419.80,209.77 420.22,208.12 420.64,209.74 421.06,208.12 421.48,205.89 421.90,207.28 422.32,205.37 422.74,206.23 423.16,205.15 423.58,205.31 424.00,204.25 424.42,206.56 424.84,205.76 425.26,205.14 425.68,202.06 426.10,204.95 426.52,203.70 426.94,204.52 427.36,203.41 427.78,204.35 428.20,206.98 428.62,205.94 429.04,205.81 429.46,206.59 429.88,207.11 430.30,208.33 430.72,207.90 431.14,209.05 431.56,208.82 431.98,210.45 432.40,208.19 432.82,209.07 433.24,208.85 433.66,208.72 434.08,210.51 434.50,207.72 434.92,207.11 435.34,206.65 435.76,206.09 436.18,205.21 436.60,204.41 437.02,202.66 437.44,203.69 437.86,203.06 438.28,200.77 438.70,200.29 439.12,199.60 439.54,197.45 439.96,195.29 440.38,196.57 440.80,194.12 441.22,198.05 441.64,195.84 442.06,196.72 442.48,195.22 442.90,195.60 443.32,196.55 443.74,196.70 444.16,197.97 444.58,202.98 445.00,203.72 445.42,206.09 445.84,208.28 446.26,210.77 446.68,212.11 447.10,215.00 447.52,215.38 447.94,216.52 448.36,218.91 448.78,219.05 449.20,220.17 449.62,221.19 450.04,220.55 450.46,222.27 450.88,221.82 451.30,222.44 451.72,222.22 452.14,222.54 452.56,222.93 452.98,223.08 453.40,223.26 453.82,223.68 454.24,223.53 454.66,223.50 455.08,223.55 455.50,223.87 455.92,223.96 456.34,224.07 456.76,224.00 457.18,223.87 457.60,223.97 458.02,224.14 458.44,224.19 458.86,224.32 459.28,224.42 459.70,224.50 460.00,224.40" fill="none" stroke="#2a2a2a" stroke-width="0.75" stroke-linejoin="round"/>
<line x1="26.40" y1="258.80" x2="132.40" y2="258.80" stroke="#ababab" stroke-width="1.35" />
<line x1="132.40" y1="258.80" x2="132.40" y2="329.70" stroke="#b2b2b2" stroke-width="0.9" />
<line x1="26.40" y1="329.70" x2="132.40" y2="329.70" stroke="#7a7a7a" stroke-width="0.9" />
<line x1="26.40" y1="258.20" x2="26.40" y2="330.20" stroke="#757575" stroke-width="1.0" />
<line x1="24.60" y1="329.70" x2="26.40" y2="329.70" stroke="#777" stroke-width="0.6" />
<text class="t" x="24.40" y="330.70" font-size="2.7" text-anchor="end" font-weight="normal" fill="#555" >0</text>
<line x1="24.60" y1="311.98" x2="26.40" y2="311.98" stroke="#777" stroke-width="0.6" />
<text class="t" x="24.40" y="312.98" font-size="2.7" text-anchor="end" font-weight="normal" fill="#555" >50</text>
<line x1="24.60" y1="294.25" x2="26.40" y2="294.25" stroke="#777" stroke-width="0.6" />
<text class="t" x="24.40" y="295.25" font-size="2.7" text-anchor="end" font-weight="normal" fill="#555" >100</text>
<line x1="24.60" y1="276.52" x2="26.40" y2="276.52" stroke="#777" stroke-width="0.6" />
<text class="t" x="24.40" y="277.52" font-size="2.7" text-anchor="end" font-weight="normal" fill="#555" >150</text>
<line x1="24.60" y1="258.80" x2="26.40" y2="258.80" stroke="#777" stroke-width="0.6" />
<text class="t" x="24.40" y="259.80" font-size="2.7" text-anchor="end" font-weight="normal" fill="#555" >200</text>
<line x1="26.40" y1="329.70" x2="26.40" y2="330.70" stroke="#888" stroke-width="0.5" />
<text class="t" x="26.40" y="333.90" font-size="3.0" text-anchor="middle" font-weight="normal" fill="#666" >10<tspan font-size="2" dy="-1">0</tspan></text>
<line x1="52.90" y1="329.70" x2="52.90" y2="330.70" stroke="#888" stroke-width="0.5" />
<text class="t" x="52.90" y="333.90" font-size="3.0" text-anchor="middle" font-weight="normal" fill="#666" >10<tspan font-size="2" dy="-1">1</tspan></text>
<line x1="79.40" y1="329.70" x2="79.40" y2="330.70" stroke="#888" stroke-width="0.5" />
<text class="t" x="79.40" y="333.90" font-size="3.0" text-anchor="middle" font-weight="normal" fill="#666" >10<tspan font-size="2" dy="-1">2</tspan></text>
<line x1="105.90" y1="329.70" x2="105.90" y2="330.70" stroke="#888" stroke-width="0.5" />
<text class="t" x="105.90" y="333.90" font-size="3.0" text-anchor="middle" font-weight="normal" fill="#666" >10<tspan font-size="2" dy="-1">3</tspan></text>
<line x1="132.40" y1="329.70" x2="132.40" y2="330.70" stroke="#888" stroke-width="0.5" />
<text class="t" x="132.40" y="333.90" font-size="3.0" text-anchor="middle" font-weight="normal" fill="#666" >10<tspan font-size="2" dy="-1">4</tspan></text>
<text class="t" x="79.40" y="337.30" font-size="2.8" text-anchor="middle" font-weight="normal" fill="#999" >FL1-Log</text>
<text class="t" x="18.90" y="294.25" font-size="3.0" text-anchor="middle" font-weight="normal" fill="#888" transform="rotate(-90 18.90 294.25)">Counts</text>
<line x1="44.00" y1="314.40" x2="132.40" y2="314.40" stroke="#8a8a8a" stroke-width="0.7" />
<line x1="44.00" y1="313.20" x2="44.00" y2="315.60" stroke="#8a8a8a" stroke-width="0.6" />
<text class="t" x="45.50" y="318.00" font-size="2.8" text-anchor="start" font-weight="normal" fill="#666" >M1</text>
<polyline points="47.00,329.32 47.42,328.98 47.84,328.96 48.26,328.49 48.68,327.52 49.10,327.67 49.52,327.00 49.94,326.99 50.36,325.65 50.78,325.96 51.20,323.97 51.62,323.84 52.04,323.67 52.46,324.15 52.88,322.69 53.30,322.33 53.72,321.33 54.14,320.22 54.56,319.96 54.98,318.66 55.40,319.56 55.82,317.32 56.24,317.20 56.66,318.03 57.08,315.11 57.50,315.25 57.92,314.61 58.34,314.49 58.76,312.97 59.18,313.20 59.60,312.05 60.02,310.59 60.44,312.72 60.86,308.91 61.28,310.57 61.70,308.51 62.12,307.35 62.54,307.26 62.96,307.80 63.38,307.46 63.80,306.40 64.22,307.50 64.64,308.28 65.06,309.46 65.48,308.27 65.90,309.54 66.32,308.15 66.74,308.87 67.16,308.25 67.58,309.56 68.00,310.48 68.42,310.87 68.84,308.96 69.26,311.43 69.68,311.62 70.10,310.59 70.52,313.29 70.94,313.65 71.36,314.50 71.78,314.48 72.20,314.64 72.62,315.06 73.04,316.64 73.46,317.63 73.88,317.85 74.30,317.56 74.72,319.80 75.14,318.57 75.56,320.29 75.98,320.82 76.40,321.49 76.82,321.80 77.24,322.21 77.66,323.45 78.08,324.75 78.50,324.80 78.92,325.87 79.34,325.89 79.76,325.42 80.18,326.33 80.60,326.93 81.02,326.44 81.44,326.91 81.86,327.32 82.28,327.59 82.70,328.36 83.12,328.04 83.54,328.37 83.96,328.86 84.38,328.94 84.80,329.09 85.22,329.11 85.64,328.96 86.06,329.46 86.48,329.19 86.90,329.27 87.32,329.22 87.74,329.45 88.16,329.44 88.58,329.52 89.00,329.50" fill="none" stroke="#a8a8a8" stroke-width="0.9" stroke-linejoin="round"/>
<polyline points="47.00,329.32 47.42,328.98 47.84,328.96 48.26,328.49 48.68,327.52 49.10,327.67 49.52,327.00 49.94,326.99 50.36,325.65 50.78,325.96 51.20,323.97 51.62,323.84 52.04,323.67 52.46,324.15 52.88,322.69 53.30,322.33 53.72,321.33 54.14,320.22 54.56,319.96 54.98,318.66 55.40,319.56 55.82,317.32 56.24,317.20 56.66,318.03 57.08,315.11 57.50,315.25 57.92,314.61 58.34,314.49 58.76,312.97 59.18,313.20 59.60,312.05 60.02,310.59 60.44,312.72 60.86,308.91 61.28,310.57 61.70,308.51 62.12,307.35 62.54,307.26 62.96,307.80 63.38,307.46 63.80,306.40 64.22,307.50 64.64,308.28 65.06,309.46 65.48,308.27 65.90,309.54 66.32,308.15 66.74,308.87 67.16,308.25 67.58,309.56 68.00,310.48 68.42,310.87 68.84,308.96 69.26,311.43 69.68,311.62 70.10,310.59 70.52,313.29 70.94,313.65 71.36,314.50 71.78,314.48 72.20,314.64 72.62,315.06 73.04,316.64 73.46,317.63 73.88,317.85 74.30,317.56 74.72,319.80 75.14,318.57 75.56,320.29 75.98,320.82 76.40,321.49 76.82,321.80 77.24,322.21 77.66,323.45 78.08,324.75 78.50,324.80 78.92,325.87 79.34,325.89 79.76,325.42 80.18,326.33 80.60,326.93 81.02,326.44 81.44,326.91 81.86,327.32 82.28,327.59 82.70,328.36 83.12,328.04 83.54,328.37 83.96,328.86 84.38,328.94 84.80,329.09 85.22,329.11 85.64,328.96 86.06,329.46 86.48,329.19 86.90,329.27 87.32,329.22 87.74,329.45 88.16,329.44 88.58,329.52 89.00,329.50" fill="none" stroke="#6a6a6a" stroke-width="0.6" stroke-dasharray="1.2,1.8"/>
<polyline points="45.00,329.26 45.42,329.13 45.84,328.81 46.26,328.50 46.68,328.09 47.10,327.04 47.52,326.85 47.94,325.52 48.36,324.75 48.78,324.43 49.20,324.12 49.62,322.94 50.04,322.15 50.46,321.60 50.88,320.25 51.30,319.09 51.72,316.62 52.14,317.21 52.56,316.68 52.98,317.36 53.40,316.16 53.82,315.34 54.24,313.86 54.66,312.89 55.08,314.21 55.50,314.01 55.92,313.31 56.34,312.80 56.76,311.24 57.18,310.92 57.60,310.91 58.02,309.75 58.44,309.61 58.86,310.02 59.28,309.89 59.70,306.41 60.12,305.58 60.54,305.85 60.96,306.81 61.38,305.96 61.80,308.79 62.22,308.03 62.64,310.16 63.06,309.84 63.48,309.91 63.90,309.77 64.32,310.71 64.74,310.12 65.16,311.27 65.58,312.05 66.00,313.77 66.42,313.98 66.84,315.12 67.26,314.96 67.68,317.15 68.10,315.75 68.52,318.04 68.94,317.85 69.36,319.20 69.78,320.26 70.20,320.78 70.62,322.21 71.04,321.80 71.46,322.45 71.88,322.38 72.30,322.72 72.72,323.55 73.14,324.49 73.56,325.09 73.98,325.79 74.40,325.87 74.82,326.73 75.24,326.96 75.66,326.66 76.08,327.67 76.50,327.99 76.92,328.26 77.34,328.07 77.76,327.97 78.18,328.36 78.60,328.59 79.02,328.93 79.44,329.01 79.86,328.85 80.28,329.02 80.70,329.22 81.12,329.00 81.54,329.02 81.96,329.29 82.38,329.26 82.80,329.47 83.00,329.40" fill="none" stroke="#2a2a2a" stroke-width="0.75" stroke-linejoin="round"/>
<line x1="145.40" y1="258.80" x2="251.50" y2="258.80" stroke="#ababab" stroke-width="1.35" />
<line x1="251.50" y1="258.80" x2="251.50" y2="329.70" stroke="#b2b2b2" stroke-width="0.9" />
<line x1="145.40" y1="329.70" x2="251.50" y2="329.70" stroke="#7a7a7a" stroke-width="0.9" />
<line x1="145.40" y1="258.20" x2="145.40" y2="330.20" stroke="#757575" stroke-width="1.0" />
<line x1="143.60" y1="329.70" x2="145.40" y2="329.70" stroke="#777" stroke-width="0.6" />
<text class="t" x="143.40" y="330.70" font-size="2.7" text-anchor="end" font-weight="normal" fill="#555" >0</text>
<line x1="143.60" y1="311.98" x2="145.40" y2="311.98" stroke="#777" stroke-width="0.6" />
<text class="t" x="143.40" y="312.98" font-size="2.7" text-anchor="end" font-weight="normal" fill="#555" >50</text>
<line x1="143.60" y1="294.25" x2="145.40" y2="294.25" stroke="#777" stroke-width="0.6" />
<text class="t" x="143.40" y="295.25" font-size="2.7" text-anchor="end" font-weight="normal" fill="#555" >100</text>
<line x1="143.60" y1="276.52" x2="145.40" y2="276.52" stroke="#777" stroke-width="0.6" />
<text class="t" x="143.40" y="277.52" font-size="2.7" text-anchor="end" font-weight="normal" fill="#555" >150</text>
<line x1="143.60" y1="258.80" x2="145.40" y2="258.80" stroke="#777" stroke-width="0.6" />
<text class="t" x="143.40" y="259.80" font-size="2.7" text-anchor="end" font-weight="normal" fill="#555" >200</text>
<line x1="145.40" y1="329.70" x2="145.40" y2="330.70" stroke="#888" stroke-width="0.5" />
<text class="t" x="145.40" y="333.90" font-size="3.0" text-anchor="middle" font-weight="normal" fill="#666" >10<tspan font-size="2" dy="-1">0</tspan></text>
<line x1="171.93" y1="329.70" x2="171.93" y2="330.70" stroke="#888" stroke-width="0.5" />
<text class="t" x="171.93" y="333.90" font-size="3.0" text-anchor="middle" font-weight="normal" fill="#666" >10<tspan font-size="2" dy="-1">1</tspan></text>
<line x1="198.45" y1="329.70" x2="198.45" y2="330.70" stroke="#888" stroke-width="0.5" />
<text class="t" x="198.45" y="333.90" font-size="3.0" text-anchor="middle" font-weight="normal" fill="#666" >10<tspan font-size="2" dy="-1">2</tspan></text>
<line x1="224.97" y1="329.70" x2="224.97" y2="330.70" stroke="#888" stroke-width="0.5" />
<text class="t" x="224.97" y="333.90" font-size="3.0" text-anchor="middle" font-weight="normal" fill="#666" >10<tspan font-size="2" dy="-1">3</tspan></text>
<line x1="251.50" y1="329.70" x2="251.50" y2="330.70" stroke="#888" stroke-width="0.5" />
<text class="t" x="251.50" y="333.90" font-size="3.0" text-anchor="middle" font-weight="normal" fill="#666" >10<tspan font-size="2" dy="-1">4</tspan></text>
<text class="t" x="198.45" y="337.30" font-size="2.8" text-anchor="middle" font-weight="normal" fill="#999" >FL1-Log</text>
<text class="t" x="137.90" y="294.25" font-size="3.0" text-anchor="middle" font-weight="normal" fill="#888" transform="rotate(-90 137.90 294.25)">Counts</text>
<line x1="163.00" y1="315.00" x2="251.50" y2="315.00" stroke="#8a8a8a" stroke-width="0.7" />
<line x1="163.00" y1="313.80" x2="163.00" y2="316.20" stroke="#8a8a8a" stroke-width="0.6" />
<text class="t" x="164.50" y="318.60" font-size="2.8" text-anchor="start" font-weight="normal" fill="#666" >M1</text>
<polyline points="165.00,329.59 165.42,329.46 165.84,329.39 166.26,329.24 166.68,328.72 167.10,328.56 167.52,329.07 167.94,328.72 168.36,328.68 168.78,327.67 169.20,328.14 169.62,328.25 170.04,328.09 170.46,327.78 170.88,326.97 171.30,327.29 171.72,326.92 172.14,326.53 172.56,326.66 172.98,326.29 173.40,326.24 173.82,325.71 174.24,326.59 174.66,325.11 175.08,325.27 175.50,325.04 175.92,323.96 176.34,324.52 176.76,323.61 177.18,323.74 177.60,323.32 178.02,323.10 178.44,322.42 178.86,322.69 179.28,322.02 179.70,322.48 180.12,322.29 180.54,322.57 180.96,321.86 181.38,320.87 181.80,321.87 182.22,320.89 182.64,321.69 183.06,321.29 183.48,320.39 183.90,320.17 184.32,320.55 184.74,320.23 185.16,321.49 185.58,320.62 186.00,319.59 186.42,320.78 186.84,319.97 187.26,319.88 187.68,320.06 188.10,318.92 188.52,320.42 188.94,319.44 189.36,319.01 189.78,318.86 190.20,318.72 190.62,320.21 191.04,319.05 191.46,319.73 191.88,316.93 192.30,317.87 192.72,317.70 193.14,317.54 193.56,319.52 193.98,317.75 194.40,318.05 194.82,317.37 195.24,317.68 195.66,317.52 196.08,317.75 196.50,318.20 196.92,317.64 197.34,317.24 197.76,318.04 198.18,317.38 198.60,317.26 199.02,315.63 199.44,315.54 199.86,317.08 200.28,316.48 200.70,316.07 201.12,316.70 201.54,316.30 201.96,315.00 202.38,315.53 202.80,314.33 203.22,315.19 203.64,315.50 204.06,315.80 204.48,316.27 204.90,315.79 205.32,316.60 205.74,316.35 206.16,317.39 206.58,317.80 207.00,318.85 207.42,318.46 207.84,318.40 208.26,318.16 208.68,318.73 209.10,320.27 209.52,320.91 209.94,320.86 210.36,320.72 210.78,320.76 211.20,322.47 211.62,322.42 212.04,322.32 212.46,322.94 212.88,323.85 213.30,323.96 213.72,324.69 214.14,325.33 214.56,326.03 214.98,326.18 215.40,326.66 215.82,326.64 216.24,327.12 216.66,327.25 217.08,327.54 217.50,327.50 217.92,328.67 218.34,328.23 218.76,328.49 219.18,328.26 219.60,328.89 220.02,329.21 220.44,328.93 220.86,329.20 221.28,328.94 221.70,329.19 222.12,328.89 222.54,329.08 222.96,329.09 223.38,329.38 223.80,329.18 224.22,329.52 224.64,329.50 225.06,329.53 225.48,329.41 225.90,329.46 226.00,329.50" fill="none" stroke="#a8a8a8" stroke-width="0.9" stroke-linejoin="round"/>
<polyline points="165.00,329.59 165.42,329.46 165.84,329.39 166.26,329.24 166.68,328.72 167.10,328.56 167.52,329.07 167.94,328.72 168.36,328.68 168.78,327.67 169.20,328.14 169.62,328.25 170.04,328.09 170.46,327.78 170.88,326.97 171.30,327.29 171.72,326.92 172.14,326.53 172.56,326.66 172.98,326.29 173.40,326.24 173.82,325.71 174.24,326.59 174.66,325.11 175.08,325.27 175.50,325.04 175.92,323.96 176.34,324.52 176.76,323.61 177.18,323.74 177.60,323.32 178.02,323.10 178.44,322.42 178.86,322.69 179.28,322.02 179.70,322.48 180.12,322.29 180.54,322.57 180.96,321.86 181.38,320.87 181.80,321.87 182.22,320.89 182.64,321.69 183.06,321.29 183.48,320.39 183.90,320.17 184.32,320.55 184.74,320.23 185.16,321.49 185.58,320.62 186.00,319.59 186.42,320.78 186.84,319.97 187.26,319.88 187.68,320.06 188.10,318.92 188.52,320.42 188.94,319.44 189.36,319.01 189.78,318.86 190.20,318.72 190.62,320.21 191.04,319.05 191.46,319.73 191.88,316.93 192.30,317.87 192.72,317.70 193.14,317.54 193.56,319.52 193.98,317.75 194.40,318.05 194.82,317.37 195.24,317.68 195.66,317.52 196.08,317.75 196.50,318.20 196.92,317.64 197.34,317.24 197.76,318.04 198.18,317.38 198.60,317.26 199.02,315.63 199.44,315.54 199.86,317.08 200.28,316.48 200.70,316.07 201.12,316.70 201.54,316.30 201.96,315.00 202.38,315.53 202.80,314.33 203.22,315.19 203.64,315.50 204.06,315.80 204.48,316.27 204.90,315.79 205.32,316.60 205.74,316.35 206.16,317.39 206.58,317.80 207.00,318.85 207.42,318.46 207.84,318.40 208.26,318.16 208.68,318.73 209.10,320.27 209.52,320.91 209.94,320.86 210.36,320.72 210.78,320.76 211.20,322.47 211.62,322.42 212.04,322.32 212.46,322.94 212.88,323.85 213.30,323.96 213.72,324.69 214.14,325.33 214.56,326.03 214.98,326.18 215.40,326.66 215.82,326.64 216.24,327.12 216.66,327.25 217.08,327.54 217.50,327.50 217.92,328.67 218.34,328.23 218.76,328.49 219.18,328.26 219.60,328.89 220.02,329.21 220.44,328.93 220.86,329.20 221.28,328.94 221.70,329.19 222.12,328.89 222.54,329.08 222.96,329.09 223.38,329.38 223.80,329.18 224.22,329.52 224.64,329.50 225.06,329.53 225.48,329.41 225.90,329.46 226.00,329.50" fill="none" stroke="#6a6a6a" stroke-width="0.6" stroke-dasharray="1.2,1.8"/>
<polyline points="163.00,329.55 163.42,329.34 163.84,329.13 164.26,329.12 164.68,328.55 165.10,328.58 165.52,328.26 165.94,328.20 166.36,327.78 166.78,327.66 167.20,327.44 167.62,326.28 168.04,325.92 168.46,324.96 168.88,324.48 169.30,323.84 169.72,322.95 170.14,322.42 170.56,320.92 170.98,321.05 171.40,318.80 171.82,318.73 172.24,316.93 172.66,314.83 173.08,314.37 173.50,312.72 173.92,312.50 174.34,311.67 174.76,310.53 175.18,311.28 175.60,309.35 176.02,308.47 176.44,307.70 176.86,305.97 177.28,306.81 177.70,308.26 178.12,306.03 178.54,306.80 178.96,304.33 179.38,305.62 179.80,307.60 180.22,306.89 180.64,306.59 181.06,307.52 181.48,309.14 181.90,308.28 182.32,309.00 182.74,309.97 183.16,311.21 183.58,311.30 184.00,311.76 184.42,311.18 184.84,313.07 185.26,313.74 185.68,314.92 186.10,316.05 186.52,315.52 186.94,315.58 187.36,318.52 187.78,318.48 188.20,320.25 188.62,321.19 189.04,320.35 189.46,321.07 189.88,323.21 190.30,322.49 190.72,323.96 191.14,324.41 191.56,324.50 191.98,325.05 192.40,325.26 192.82,325.35 193.24,326.50 193.66,327.23 194.08,326.95 194.50,327.16 194.92,327.40 195.34,328.21 195.76,327.97 196.18,328.10 196.60,328.45 197.02,328.70 197.44,328.85 197.86,328.90 198.28,328.88 198.70,328.86 199.12,329.25 199.54,328.95 199.96,329.41 200.38,329.03 200.80,329.32 201.22,329.53 201.64,329.57 202.00,329.50" fill="none" stroke="#2a2a2a" stroke-width="0.75" stroke-linejoin="round"/>
<line x1="279.00" y1="259.70" x2="383.50" y2="259.70" stroke="#ababab" stroke-width="1.35" />
<line x1="383.50" y1="259.70" x2="383.50" y2="327.40" stroke="#b2b2b2" stroke-width="0.9" />
<line x1="279.00" y1="327.40" x2="383.50" y2="327.40" stroke="#7a7a7a" stroke-width="0.9" />
<line x1="279.00" y1="259.10" x2="279.00" y2="327.90" stroke="#757575" stroke-width="1.0" />
<line x1="277.20" y1="327.40" x2="279.00" y2="327.40" stroke="#777" stroke-width="0.6" />
<text class="t" x="277.00" y="328.40" font-size="2.7" text-anchor="end" font-weight="normal" fill="#555" >0</text>
<line x1="277.20" y1="310.47" x2="279.00" y2="310.47" stroke="#777" stroke-width="0.6" />
<text class="t" x="277.00" y="311.47" font-size="2.7" text-anchor="end" font-weight="normal" fill="#555" >50</text>
<line x1="277.20" y1="293.55" x2="279.00" y2="293.55" stroke="#777" stroke-width="0.6" />
<text class="t" x="277.00" y="294.55" font-size="2.7" text-anchor="end" font-weight="normal" fill="#555" >100</text>
<line x1="277.20" y1="276.62" x2="279.00" y2="276.62" stroke="#777" stroke-width="0.6" />
<text class="t" x="277.00" y="277.62" font-size="2.7" text-anchor="end" font-weight="normal" fill="#555" >150</text>
<line x1="277.20" y1="259.70" x2="279.00" y2="259.70" stroke="#777" stroke-width="0.6" />
<text class="t" x="277.00" y="260.70" font-size="2.7" text-anchor="end" font-weight="normal" fill="#555" >200</text>
<line x1="279.00" y1="327.40" x2="279.00" y2="328.40" stroke="#888" stroke-width="0.5" />
<text class="t" x="279.00" y="331.60" font-size="3.0" text-anchor="middle" font-weight="normal" fill="#666" >10<tspan font-size="2" dy="-1">0</tspan></text>
<line x1="305.12" y1="327.40" x2="305.12" y2="328.40" stroke="#888" stroke-width="0.5" />
<text class="t" x="305.12" y="331.60" font-size="3.0" text-anchor="middle" font-weight="normal" fill="#666" >10<tspan font-size="2" dy="-1">1</tspan></text>
<line x1="331.25" y1="327.40" x2="331.25" y2="328.40" stroke="#888" stroke-width="0.5" />
<text class="t" x="331.25" y="331.60" font-size="3.0" text-anchor="middle" font-weight="normal" fill="#666" >10<tspan font-size="2" dy="-1">2</tspan></text>
<line x1="357.38" y1="327.40" x2="357.38" y2="328.40" stroke="#888" stroke-width="0.5" />
<text class="t" x="357.38" y="331.60" font-size="3.0" text-anchor="middle" font-weight="normal" fill="#666" >10<tspan font-size="2" dy="-1">3</tspan></text>
<line x1="383.50" y1="327.40" x2="383.50" y2="328.40" stroke="#888" stroke-width="0.5" />
<text class="t" x="383.50" y="331.60" font-size="3.0" text-anchor="middle" font-weight="normal" fill="#666" >10<tspan font-size="2" dy="-1">4</tspan></text>
<text class="t" x="331.25" y="335.00" font-size="2.8" text-anchor="middle" font-weight="normal" fill="#999" >FL1-Log</text>
<text class="t" x="271.50" y="293.55" font-size="3.0" text-anchor="middle" font-weight="normal" fill="#888" transform="rotate(-90 271.50 293.55)">Counts</text>
<line x1="297.00" y1="312.70" x2="383.50" y2="312.70" stroke="#8a8a8a" stroke-width="0.7" />
<line x1="297.00" y1="311.50" x2="297.00" y2="313.90" stroke="#8a8a8a" stroke-width="0.6" />
<text class="t" x="298.50" y="316.30" font-size="2.8" text-anchor="start" font-weight="normal" fill="#666" >M1</text>
<polyline points="300.50,327.21 300.92,326.95 301.34,326.91 301.76,326.84 302.18,326.73 302.60,326.87 303.02,326.48 303.44,326.55 303.86,325.73 304.28,325.55 304.70,325.95 305.12,324.67 305.54,324.72 305.96,323.74 306.38,324.29 306.80,324.22 307.22,323.64 307.64,323.69 308.06,323.66 308.48,323.29 308.90,322.09 309.32,322.99 309.74,322.64 310.16,320.94 310.58,322.09 311.00,321.28 311.42,321.74 311.84,320.60 312.26,320.12 312.68,320.58 313.10,319.79 313.52,319.69 313.94,317.32 314.36,318.46 314.78,317.64 315.20,318.60 315.62,317.80 316.04,315.95 316.46,316.15 316.88,316.11 317.30,314.01 317.72,314.04 318.14,314.41 318.56,313.28 318.98,312.82 319.40,312.49 319.82,310.42 320.24,311.67 320.66,310.84 321.08,310.04 321.50,309.34 321.92,308.48 322.34,308.26 322.76,307.88 323.18,307.89 323.60,307.85 324.02,306.13 324.44,307.63 324.86,307.32 325.28,306.05 325.70,306.83 326.12,307.17 326.54,306.26 326.96,307.13 327.38,308.07 327.80,308.59 328.22,308.99 328.64,309.13 329.06,308.15 329.48,310.26 329.90,311.82 330.32,312.03 330.74,312.00 331.16,312.29 331.58,313.86 332.00,313.91 332.42,313.69 332.84,315.61 333.26,315.63 333.68,316.07 334.10,316.66 334.52,318.28 334.94,318.15 335.36,319.52 335.78,319.49 336.20,319.37 336.62,320.74 337.04,321.16 337.46,322.06 337.88,320.69 338.30,322.17 338.72,323.53 339.14,323.55 339.56,323.43 339.98,324.26 340.40,324.20 340.82,324.56 341.24,325.86 341.66,325.56 342.08,325.59 342.50,326.31 342.92,326.49 343.34,326.69 343.76,326.93 344.18,326.63 344.60,326.58 345.02,327.01 345.44,326.90 345.86,327.32 346.00,327.20" fill="none" stroke="#a8a8a8" stroke-width="0.9" stroke-linejoin="round"/>
<polyline points="300.50,327.21 300.92,326.95 301.34,326.91 301.76,326.84 302.18,326.73 302.60,326.87 303.02,326.48 303.44,326.55 303.86,325.73 304.28,325.55 304.70,325.95 305.12,324.67 305.54,324.72 305.96,323.74 306.38,324.29 306.80,324.22 307.22,323.64 307.64,323.69 308.06,323.66 308.48,323.29 308.90,322.09 309.32,322.99 309.74,322.64 310.16,320.94 310.58,322.09 311.00,321.28 311.42,321.74 311.84,320.60 312.26,320.12 312.68,320.58 313.10,319.79 313.52,319.69 313.94,317.32 314.36,318.46 314.78,317.64 315.20,318.60 315.62,317.80 316.04,315.95 316.46,316.15 316.88,316.11 317.30,314.01 317.72,314.04 318.14,314.41 318.56,313.28 318.98,312.82 319.40,312.49 319.82,310.42 320.24,311.67 320.66,310.84 321.08,310.04 321.50,309.34 321.92,308.48 322.34,308.26 322.76,307.88 323.18,307.89 323.60,307.85 324.02,306.13 324.44,307.63 324.86,307.32 325.28,306.05 325.70,306.83 326.12,307.17 326.54,306.26 326.96,307.13 327.38,308.07 327.80,308.59 328.22,308.99 328.64,309.13 329.06,308.15 329.48,310.26 329.90,311.82 330.32,312.03 330.74,312.00 331.16,312.29 331.58,313.86 332.00,313.91 332.42,313.69 332.84,315.61 333.26,315.63 333.68,316.07 334.10,316.66 334.52,318.28 334.94,318.15 335.36,319.52 335.78,319.49 336.20,319.37 336.62,320.74 337.04,321.16 337.46,322.06 337.88,320.69 338.30,322.17 338.72,323.53 339.14,323.55 339.56,323.43 339.98,324.26 340.40,324.20 340.82,324.56 341.24,325.86 341.66,325.56 342.08,325.59 342.50,326.31 342.92,326.49 343.34,326.69 343.76,326.93 344.18,326.63 344.60,326.58 345.02,327.01 345.44,326.90 345.86,327.32 346.00,327.20" fill="none" stroke="#6a6a6a" stroke-width="0.6" stroke-dasharray="1.2,1.8"/>
<polyline points="300.00,327.18 300.42,327.07 300.84,327.16 301.26,326.96 301.68,327.08 302.10,326.93 302.52,326.96 302.94,327.02 303.36,326.46 303.78,325.96 304.20,325.93 304.62,325.39 305.04,324.94 305.46,325.12 305.88,324.66 306.30,325.07 306.72,324.37 307.14,324.21 307.56,323.27 307.98,323.59 308.40,323.84 308.82,323.17 309.24,322.63 309.66,323.28 310.08,322.23 310.50,321.59 310.92,321.84 311.34,321.33 311.76,320.85 312.18,320.94 312.60,321.32 313.02,320.32 313.44,319.91 313.86,319.48 314.28,318.47 314.70,320.17 315.12,317.18 315.54,316.67 315.96,317.47 316.38,316.69 316.80,315.64 317.22,315.64 317.64,314.42 318.06,314.49 318.48,314.17 318.90,313.88 319.32,313.15 319.74,310.45 320.16,312.79 320.58,310.99 321.00,311.69 321.42,309.41 321.84,310.55 322.26,307.51 322.68,308.23 323.10,308.13 323.52,306.62 323.94,308.80 324.36,307.35 324.78,305.42 325.20,307.61 325.62,306.27 326.04,307.84 326.46,307.37 326.88,308.18 327.30,307.66 327.72,310.45 328.14,310.18 328.56,310.10 328.98,307.73 329.40,310.99 329.82,310.28 330.24,311.27 330.66,310.54 331.08,311.64 331.50,314.20 331.92,313.65 332.34,313.92 332.76,314.86 333.18,315.58 333.60,316.87 334.02,316.81 334.44,318.01 334.86,318.11 335.28,319.79 335.70,318.66 336.12,319.84 336.54,320.13 336.96,320.49 337.38,322.07 337.80,320.96 338.22,321.72 338.64,322.50 339.06,323.13 339.48,323.59 339.90,324.08 340.32,324.21 340.74,325.32 341.16,325.70 341.58,325.59 342.00,325.99 342.42,326.33 342.84,326.37 343.26,326.32 343.68,326.72 344.10,326.54 344.52,327.24 344.94,327.10 345.36,327.26 345.40,327.10" fill="none" stroke="#2a2a2a" stroke-width="0.75" stroke-linejoin="round"/>
<line x1="396.40" y1="259.70" x2="501.50" y2="259.70" stroke="#ababab" stroke-width="1.35" />
<line x1="501.50" y1="259.70" x2="501.50" y2="327.40" stroke="#b2b2b2" stroke-width="0.9" />
<line x1="396.40" y1="327.40" x2="501.50" y2="327.40" stroke="#7a7a7a" stroke-width="0.9" />
<line x1="396.40" y1="259.10" x2="396.40" y2="327.90" stroke="#757575" stroke-width="1.0" />
<line x1="394.60" y1="327.40" x2="396.40" y2="327.40" stroke="#777" stroke-width="0.6" />
<text class="t" x="394.40" y="328.40" font-size="2.7" text-anchor="end" font-weight="normal" fill="#555" >0</text>
<line x1="394.60" y1="310.47" x2="396.40" y2="310.47" stroke="#777" stroke-width="0.6" />
<text class="t" x="394.40" y="311.47" font-size="2.7" text-anchor="end" font-weight="normal" fill="#555" >50</text>
<line x1="394.60" y1="293.55" x2="396.40" y2="293.55" stroke="#777" stroke-width="0.6" />
<text class="t" x="394.40" y="294.55" font-size="2.7" text-anchor="end" font-weight="normal" fill="#555" >100</text>
<line x1="394.60" y1="276.62" x2="396.40" y2="276.62" stroke="#777" stroke-width="0.6" />
<text class="t" x="394.40" y="277.62" font-size="2.7" text-anchor="end" font-weight="normal" fill="#555" >150</text>
<line x1="394.60" y1="259.70" x2="396.40" y2="259.70" stroke="#777" stroke-width="0.6" />
<text class="t" x="394.40" y="260.70" font-size="2.7" text-anchor="end" font-weight="normal" fill="#555" >200</text>
<line x1="396.40" y1="327.40" x2="396.40" y2="328.40" stroke="#888" stroke-width="0.5" />
<text class="t" x="396.40" y="331.60" font-size="3.0" text-anchor="middle" font-weight="normal" fill="#666" >10<tspan font-size="2" dy="-1">0</tspan></text>
<line x1="422.67" y1="327.40" x2="422.67" y2="328.40" stroke="#888" stroke-width="0.5" />
<text class="t" x="422.67" y="331.60" font-size="3.0" text-anchor="middle" font-weight="normal" fill="#666" >10<tspan font-size="2" dy="-1">1</tspan></text>
<line x1="448.95" y1="327.40" x2="448.95" y2="328.40" stroke="#888" stroke-width="0.5" />
<text class="t" x="448.95" y="331.60" font-size="3.0" text-anchor="middle" font-weight="normal" fill="#666" >10<tspan font-size="2" dy="-1">2</tspan></text>
<line x1="475.23" y1="327.40" x2="475.23" y2="328.40" stroke="#888" stroke-width="0.5" />
<text class="t" x="475.23" y="331.60" font-size="3.0" text-anchor="middle" font-weight="normal" fill="#666" >10<tspan font-size="2" dy="-1">3</tspan></text>
<line x1="501.50" y1="327.40" x2="501.50" y2="328.40" stroke="#888" stroke-width="0.5" />
<text class="t" x="501.50" y="331.60" font-size="3.0" text-anchor="middle" font-weight="normal" fill="#666" >10<tspan font-size="2" dy="-1">4</tspan></text>
<text class="t" x="448.95" y="335.00" font-size="2.8" text-anchor="middle" font-weight="normal" fill="#999" >FL1-Log</text>
<text class="t" x="388.90" y="293.55" font-size="3.0" text-anchor="middle" font-weight="normal" fill="#888" transform="rotate(-90 388.90 293.55)">Counts</text>
<line x1="415.00" y1="312.70" x2="501.50" y2="312.70" stroke="#8a8a8a" stroke-width="0.7" />
<line x1="415.00" y1="311.50" x2="415.00" y2="313.90" stroke="#8a8a8a" stroke-width="0.6" />
<text class="t" x="416.50" y="316.30" font-size="2.8" text-anchor="start" font-weight="normal" fill="#666" >M1</text>
<polyline points="422.00,327.40 422.42,327.24 422.84,327.01 423.26,326.92 423.68,326.73 424.10,326.68 424.52,326.68 424.94,326.26 425.36,326.16 425.78,326.12 426.20,326.15 426.62,325.85 427.04,325.88 427.46,324.95 427.88,325.31 428.30,324.81 428.72,324.59 429.14,324.72 429.56,324.16 429.98,323.44 430.40,323.41 430.82,323.01 431.24,322.94 431.66,322.50 432.08,322.12 432.50,322.08 432.92,320.99 433.34,319.78 433.76,320.20 434.18,318.70 434.60,318.89 435.02,317.86 435.44,317.66 435.86,318.14 436.28,318.99 436.70,318.02 437.12,316.22 437.54,316.51 437.96,317.55 438.38,315.29 438.80,314.49 439.22,315.02 439.64,314.25 440.06,315.04 440.48,314.49 440.90,314.56 441.32,315.13 441.74,314.93 442.16,313.99 442.58,315.54 443.00,312.30 443.42,314.24 443.84,313.86 444.26,313.84 444.68,315.14 445.10,313.48 445.52,314.19 445.94,314.88 446.36,314.47 446.78,312.49 447.20,314.67 447.62,312.95 448.04,313.78 448.46,314.09 448.88,314.30 449.30,314.17 449.72,315.08 450.14,314.37 450.56,314.22 450.98,313.61 451.40,315.15 451.82,314.05 452.24,314.56 452.66,313.71 453.08,312.28 453.50,314.84 453.92,313.19 454.34,314.67 454.76,314.49 455.18,314.75 455.60,315.29 456.02,314.40 456.44,315.62 456.86,315.41 457.28,315.97 457.70,316.83 458.12,317.14 458.54,318.59 458.96,317.30 459.38,318.74 459.80,318.49 460.22,320.00 460.64,319.25 461.06,320.33 461.48,320.23 461.90,321.26 462.32,322.63 462.74,322.56 463.16,322.95 463.58,323.10 464.00,323.45 464.42,323.88 464.84,324.72 465.26,325.25 465.68,325.22 466.10,325.35 466.52,325.74 466.94,326.24 467.36,325.41 467.78,326.61 468.20,326.88 468.62,327.00 469.04,327.27 469.46,327.26 469.88,326.99 470.30,327.14 470.72,327.25 471.14,327.28 471.56,327.25 471.98,327.30 472.00,327.30" fill="none" stroke="#a8a8a8" stroke-width="0.9" stroke-linejoin="round"/>
<polyline points="422.00,327.40 422.42,327.24 422.84,327.01 423.26,326.92 423.68,326.73 424.10,326.68 424.52,326.68 424.94,326.26 425.36,326.16 425.78,326.12 426.20,326.15 426.62,325.85 427.04,325.88 427.46,324.95 427.88,325.31 428.30,324.81 428.72,324.59 429.14,324.72 429.56,324.16 429.98,323.44 430.40,323.41 430.82,323.01 431.24,322.94 431.66,322.50 432.08,322.12 432.50,322.08 432.92,320.99 433.34,319.78 433.76,320.20 434.18,318.70 434.60,318.89 435.02,317.86 435.44,317.66 435.86,318.14 436.28,318.99 436.70,318.02 437.12,316.22 437.54,316.51 437.96,317.55 438.38,315.29 438.80,314.49 439.22,315.02 439.64,314.25 440.06,315.04 440.48,314.49 440.90,314.56 441.32,315.13 441.74,314.93 442.16,313.99 442.58,315.54 443.00,312.30 443.42,314.24 443.84,313.86 444.26,313.84 444.68,315.14 445.10,313.48 445.52,314.19 445.94,314.88 446.36,314.47 446.78,312.49 447.20,314.67 447.62,312.95 448.04,313.78 448.46,314.09 448.88,314.30 449.30,314.17 449.72,315.08 450.14,314.37 450.56,314.22 450.98,313.61 451.40,315.15 451.82,314.05 452.24,314.56 452.66,313.71 453.08,312.28 453.50,314.84 453.92,313.19 454.34,314.67 454.76,314.49 455.18,314.75 455.60,315.29 456.02,314.40 456.44,315.62 456.86,315.41 457.28,315.97 457.70,316.83 458.12,317.14 458.54,318.59 458.96,317.30 459.38,318.74 459.80,318.49 460.22,320.00 460.64,319.25 461.06,320.33 461.48,320.23 461.90,321.26 462.32,322.63 462.74,322.56 463.16,322.95 463.58,323.10 464.00,323.45 464.42,323.88 464.84,324.72 465.26,325.25 465.68,325.22 466.10,325.35 466.52,325.74 466.94,326.24 467.36,325.41 467.78,326.61 468.20,326.88 468.62,327.00 469.04,327.27 469.46,327.26 469.88,326.99 470.30,327.14 470.72,327.25 471.14,327.28 471.56,327.25 471.98,327.30 472.00,327.30" fill="none" stroke="#6a6a6a" stroke-width="0.6" stroke-dasharray="1.2,1.8"/>
<polyline points="419.00,327.34 419.42,327.13 419.84,326.83 420.26,327.04 420.68,326.78 421.10,326.86 421.52,326.45 421.94,326.89 422.36,326.48 422.78,326.64 423.20,326.18 423.62,325.79 424.04,325.83 424.46,325.51 424.88,325.05 425.30,325.87 425.72,325.12 426.14,325.32 426.56,324.66 426.98,324.43 427.40,324.70 427.82,324.02 428.24,323.77 428.66,322.74 429.08,322.71 429.50,321.45 429.92,320.57 430.34,320.45 430.76,320.00 431.18,320.16 431.60,319.03 432.02,317.56 432.44,316.86 432.86,316.69 433.28,315.22 433.70,315.01 434.12,313.73 434.54,314.85 434.96,312.64 435.38,311.19 435.80,312.22 436.22,310.55 436.64,311.04 437.06,309.65 437.48,309.05 437.90,308.94 438.32,311.24 438.74,308.50 439.16,308.76 439.58,308.98 440.00,309.33 440.42,307.60 440.84,308.71 441.26,307.73 441.68,306.52 442.10,306.19 442.52,307.08 442.94,304.92 443.36,307.01 443.78,305.59 444.20,306.94 444.62,307.82 445.04,307.45 445.46,308.29 445.88,308.57 446.30,308.56 446.72,310.92 447.14,310.44 447.56,311.23 447.98,312.84 448.40,312.14 448.82,313.99 449.24,314.49 449.66,314.23 450.08,315.75 450.50,316.88 450.92,316.88 451.34,317.21 451.76,318.86 452.18,319.44 452.60,320.11 453.02,320.58 453.44,322.06 453.86,321.86 454.28,322.48 454.70,323.21 455.12,323.39 455.54,324.16 455.96,324.87 456.38,324.93 456.80,325.33 457.22,325.76 457.64,325.77 458.06,325.97 458.48,326.08 458.90,326.11 459.32,326.44 459.74,326.59 460.16,326.39 460.58,326.88 461.00,327.05 461.42,326.65 461.84,326.93 462.26,326.95 462.68,327.21 463.10,327.22 463.52,327.25 463.94,327.24 464.36,327.26 464.78,327.31 465.00,327.30" fill="none" stroke="#2a2a2a" stroke-width="0.75" stroke-linejoin="round"/>
<rect x="89.30" y="64.40" width="15.90" height="5.4" fill="#c8c8c8"/>
<line x1="89.60" y1="77.30" x2="104.90" y2="77.30" stroke="#333" stroke-width="1.0" />
<line x1="89.60" y1="88.20" x2="104.90" y2="88.20" stroke="#333" stroke-width="1.0" stroke-dasharray="3.2,2.2"/>
<text x="128.90" y="70.30" font-size="8.2" text-anchor="end" font-weight="bold" fill="#111" stroke="#111" stroke-width="0.26" stroke-linejoin="round" >7%</text>
<text x="128.90" y="82.10" font-size="8.2" text-anchor="end" font-weight="bold" fill="#111" stroke="#111" stroke-width="0.26" stroke-linejoin="round" >8%</text>
<text x="128.90" y="93.60" font-size="8.2" text-anchor="end" font-weight="bold" fill="#111" stroke="#111" stroke-width="0.26" stroke-linejoin="round" >8%</text>
<rect x="209.00" y="64.60" width="15.40" height="5.4" fill="#c8c8c8"/>
<line x1="209.30" y1="77.50" x2="224.10" y2="77.50" stroke="#333" stroke-width="1.0" />
<line x1="209.30" y1="88.30" x2="224.10" y2="88.30" stroke="#333" stroke-width="1.0" stroke-dasharray="3.2,2.2"/>
<text x="247.70" y="70.30" font-size="8.2" text-anchor="end" font-weight="bold" fill="#111" stroke="#111" stroke-width="0.26" stroke-linejoin="round" >7%</text>
<text x="247.70" y="82.10" font-size="8.2" text-anchor="end" font-weight="bold" fill="#111" stroke="#111" stroke-width="0.26" stroke-linejoin="round" >13%</text>
<text x="247.70" y="93.60" font-size="8.2" text-anchor="end" font-weight="bold" fill="#111" stroke="#111" stroke-width="0.26" stroke-linejoin="round" >61%</text>
<rect x="338.10" y="64.80" width="15.90" height="5.4" fill="#c8c8c8"/>
<line x1="338.40" y1="77.50" x2="353.70" y2="77.50" stroke="#333" stroke-width="1.0" />
<line x1="338.40" y1="88.30" x2="353.70" y2="88.30" stroke="#333" stroke-width="1.0" stroke-dasharray="3.2,2.2"/>
<text x="377.60" y="70.50" font-size="8.2" text-anchor="end" font-weight="bold" fill="#111" stroke="#111" stroke-width="0.26" stroke-linejoin="round" >7%</text>
<text x="377.60" y="82.20" font-size="8.2" text-anchor="end" font-weight="bold" fill="#111" stroke="#111" stroke-width="0.26" stroke-linejoin="round" >10%</text>
<text x="377.60" y="93.80" font-size="8.2" text-anchor="end" font-weight="bold" fill="#111" stroke="#111" stroke-width="0.26" stroke-linejoin="round" >55%</text>
<rect x="457.50" y="65.20" width="15.30" height="5.4" fill="#c8c8c8"/>
<line x1="457.80" y1="78.10" x2="472.50" y2="78.10" stroke="#333" stroke-width="1.0" />
<line x1="457.80" y1="89.00" x2="472.50" y2="89.00" stroke="#333" stroke-width="1.0" stroke-dasharray="3.2,2.2"/>
<text x="496.20" y="71.00" font-size="8.2" text-anchor="end" font-weight="bold" fill="#111" stroke="#111" stroke-width="0.26" stroke-linejoin="round" >7%</text>
<text x="496.20" y="82.70" font-size="8.2" text-anchor="end" font-weight="bold" fill="#111" stroke="#111" stroke-width="0.26" stroke-linejoin="round" >12%</text>
<text x="496.20" y="94.30" font-size="8.2" text-anchor="end" font-weight="bold" fill="#111" stroke="#111" stroke-width="0.26" stroke-linejoin="round" >80%</text>
<rect x="88.30" y="163.50" width="15.50" height="5.4" fill="#c8c8c8"/>
<line x1="88.60" y1="176.70" x2="103.50" y2="176.70" stroke="#333" stroke-width="1.0" />
<line x1="88.60" y1="188.20" x2="103.50" y2="188.20" stroke="#333" stroke-width="1.0" stroke-dasharray="3.2,2.2"/>
<text x="128.00" y="169.30" font-size="8.2" text-anchor="end" font-weight="bold" fill="#111" stroke="#111" stroke-width="0.26" stroke-linejoin="round" >37%</text>
<text x="128.00" y="181.00" font-size="8.2" text-anchor="end" font-weight="bold" fill="#111" stroke="#111" stroke-width="0.26" stroke-linejoin="round" >37%</text>
<text x="128.00" y="192.60" font-size="8.2" text-anchor="end" font-weight="bold" fill="#111" stroke="#111" stroke-width="0.26" stroke-linejoin="round" >13%</text>
<rect x="209.00" y="163.20" width="15.50" height="5.4" fill="#c8c8c8"/>
<line x1="209.30" y1="176.00" x2="224.20" y2="176.00" stroke="#333" stroke-width="1.0" />
<line x1="209.30" y1="186.80" x2="224.20" y2="186.80" stroke="#333" stroke-width="1.0" stroke-dasharray="3.2,2.2"/>
<text x="248.00" y="169.20" font-size="8.2" text-anchor="end" font-weight="bold" fill="#111" stroke="#111" stroke-width="0.26" stroke-linejoin="round" >89%</text>
<text x="248.00" y="180.80" font-size="8.2" text-anchor="end" font-weight="bold" fill="#111" stroke="#111" stroke-width="0.26" stroke-linejoin="round" >89%</text>
<text x="248.00" y="192.40" font-size="8.2" text-anchor="end" font-weight="bold" fill="#111" stroke="#111" stroke-width="0.26" stroke-linejoin="round" >68%</text>
<rect x="337.80" y="164.30" width="16.20" height="5.4" fill="#c8c8c8"/>
<line x1="338.10" y1="176.80" x2="353.70" y2="176.80" stroke="#333" stroke-width="1.0" />
<line x1="338.10" y1="188.20" x2="353.70" y2="188.20" stroke="#333" stroke-width="1.0" stroke-dasharray="3.2,2.2"/>
<text x="378.00" y="170.00" font-size="8.2" text-anchor="end" font-weight="bold" fill="#111" stroke="#111" stroke-width="0.26" stroke-linejoin="round" >34%</text>
<text x="378.00" y="181.60" font-size="8.2" text-anchor="end" font-weight="bold" fill="#111" stroke="#111" stroke-width="0.26" stroke-linejoin="round" >40%</text>
<text x="378.00" y="193.20" font-size="8.2" text-anchor="end" font-weight="bold" fill="#111" stroke="#111" stroke-width="0.26" stroke-linejoin="round" >12%</text>
<rect x="457.50" y="163.60" width="15.30" height="5.4" fill="#c8c8c8"/>
<line x1="457.80" y1="176.20" x2="472.50" y2="176.20" stroke="#333" stroke-width="1.0" />
<line x1="457.80" y1="187.40" x2="472.50" y2="187.40" stroke="#333" stroke-width="1.0" stroke-dasharray="3.2,2.2"/>
<text x="496.80" y="169.60" font-size="8.2" text-anchor="end" font-weight="bold" fill="#111" stroke="#111" stroke-width="0.26" stroke-linejoin="round" >89%</text>
<text x="496.80" y="181.20" font-size="8.2" text-anchor="end" font-weight="bold" fill="#111" stroke="#111" stroke-width="0.26" stroke-linejoin="round" >92%</text>
<text x="496.80" y="192.80" font-size="8.2" text-anchor="end" font-weight="bold" fill="#111" stroke="#111" stroke-width="0.26" stroke-linejoin="round" >68%</text>
<rect x="48.20" y="267.10" width="15.60" height="5.0" fill="#c8c8c8"/>
<line x1="48.50" y1="279.70" x2="63.50" y2="279.70" stroke="#333" stroke-width="1.0" />
<line x1="48.50" y1="290.30" x2="63.50" y2="290.30" stroke="#333" stroke-width="1.0" stroke-dasharray="3.2,2.2"/>
<text x="126.80" y="272.20" font-size="8.2" text-anchor="end" font-weight="bold" fill="#111" stroke="#111" stroke-width="0.26" stroke-linejoin="round" >8%, MFI = &#160;4</text>
<text x="82.80" y="283.80" font-size="8.2" text-anchor="middle" font-weight="bold" fill="#111" stroke="#111" stroke-width="0.26" stroke-linejoin="round" >99%</text>
<text x="126.80" y="283.80" font-size="8.2" text-anchor="end" font-weight="bold" fill="#111" stroke="#111" stroke-width="0.26" stroke-linejoin="round" >44</text>
<text x="82.80" y="295.10" font-size="8.2" text-anchor="middle" font-weight="bold" fill="#111" stroke="#111" stroke-width="0.26" stroke-linejoin="round" >100%</text>
<text x="126.80" y="295.10" font-size="8.2" text-anchor="end" font-weight="bold" fill="#111" stroke="#111" stroke-width="0.26" stroke-linejoin="round" >60</text>
<rect x="169.50" y="267.10" width="15.20" height="5.0" fill="#c8c8c8"/>
<line x1="169.80" y1="279.40" x2="184.40" y2="279.40" stroke="#333" stroke-width="1.0" />
<line x1="169.80" y1="290.30" x2="184.40" y2="290.30" stroke="#333" stroke-width="1.0" stroke-dasharray="3.2,2.2"/>
<text x="246.30" y="272.00" font-size="8.2" text-anchor="end" font-weight="bold" fill="#111" stroke="#111" stroke-width="0.26" stroke-linejoin="round" >8%, MFI = &#160;5</text>
<text x="203.70" y="283.70" font-size="8.2" text-anchor="middle" font-weight="bold" fill="#111" stroke="#111" stroke-width="0.26" stroke-linejoin="round" >98%</text>
<text x="246.30" y="283.70" font-size="8.2" text-anchor="end" font-weight="bold" fill="#111" stroke="#111" stroke-width="0.26" stroke-linejoin="round" >36</text>
<text x="203.70" y="295.00" font-size="8.2" text-anchor="middle" font-weight="bold" fill="#111" stroke="#111" stroke-width="0.26" stroke-linejoin="round" >99%</text>
<text x="246.30" y="295.00" font-size="8.2" text-anchor="end" font-weight="bold" fill="#111" stroke="#111" stroke-width="0.26" stroke-linejoin="round" >166</text>
<rect x="305.00" y="267.60" width="15.60" height="5.0" fill="#c8c8c8"/>
<line x1="305.30" y1="279.90" x2="320.30" y2="279.90" stroke="#333" stroke-width="1.0" />
<line x1="305.30" y1="290.90" x2="320.30" y2="290.90" stroke="#333" stroke-width="1.0" stroke-dasharray="3.2,2.2"/>
<text x="380.90" y="272.40" font-size="8.2" text-anchor="end" font-weight="bold" fill="#111" stroke="#111" stroke-width="0.26" stroke-linejoin="round" >8%, MFI = &#160;4</text>
<text x="338.20" y="284.90" font-size="8.2" text-anchor="middle" font-weight="bold" fill="#111" stroke="#111" stroke-width="0.26" stroke-linejoin="round" >99%</text>
<text x="380.90" y="284.90" font-size="8.2" text-anchor="end" font-weight="bold" fill="#111" stroke="#111" stroke-width="0.26" stroke-linejoin="round" >86</text>
<text x="337.00" y="295.90" font-size="8.2" text-anchor="middle" font-weight="bold" fill="#111" stroke="#111" stroke-width="0.26" stroke-linejoin="round" >99%</text>
<text x="380.90" y="295.90" font-size="8.2" text-anchor="end" font-weight="bold" fill="#111" stroke="#111" stroke-width="0.26" stroke-linejoin="round" >87</text>
<rect x="424.80" y="267.10" width="16.10" height="5.0" fill="#c8c8c8"/>
<line x1="425.10" y1="279.40" x2="440.60" y2="279.40" stroke="#333" stroke-width="1.0" />
<line x1="425.10" y1="290.30" x2="440.60" y2="290.30" stroke="#333" stroke-width="1.0" stroke-dasharray="3.2,2.2"/>
<text x="500.60" y="272.20" font-size="8.2" text-anchor="end" font-weight="bold" fill="#111" stroke="#111" stroke-width="0.26" stroke-linejoin="round" >8% &#160;MFI = &#160;5</text>
<text x="457.50" y="283.80" font-size="8.2" text-anchor="middle" font-weight="bold" fill="#111" stroke="#111" stroke-width="0.26" stroke-linejoin="round" >99%</text>
<text x="500.60" y="283.80" font-size="8.2" text-anchor="end" font-weight="bold" fill="#111" stroke="#111" stroke-width="0.26" stroke-linejoin="round" >81</text>
<text x="457.50" y="295.40" font-size="8.2" text-anchor="middle" font-weight="bold" fill="#111" stroke="#111" stroke-width="0.26" stroke-linejoin="round" >99%</text>
<text x="500.60" y="295.40" font-size="8.2" text-anchor="end" font-weight="bold" fill="#111" stroke="#111" stroke-width="0.26" stroke-linejoin="round" >190</text>
<line x1="25.00" y1="136.70" x2="117.00" y2="136.70" stroke="#383838" stroke-width="1.05" />
<line x1="161.50" y1="136.70" x2="249.00" y2="136.70" stroke="#383838" stroke-width="1.05" />
<polyline points="244.40,133.90 249.60,136.70 244.40,139.50" fill="none" stroke="#2a2a2a" stroke-width="1.1" stroke-linejoin="miter"/>
<text x="126.30" y="141.10" font-size="10" text-anchor="start" font-weight="bold" fill="#111" stroke="#111" stroke-width="0.32" stroke-linejoin="round" >CD137</text>
<line x1="275.40" y1="137.50" x2="367.80" y2="137.50" stroke="#383838" stroke-width="1.05" />
<line x1="412.20" y1="137.50" x2="499.60" y2="137.50" stroke="#383838" stroke-width="1.05" />
<polyline points="495.00,134.70 500.20,137.50 495.00,140.30" fill="none" stroke="#2a2a2a" stroke-width="1.1" stroke-linejoin="miter"/>
<text x="377.20" y="141.90" font-size="10" text-anchor="start" font-weight="bold" fill="#111" stroke="#111" stroke-width="0.32" stroke-linejoin="round" >CD137</text>
<line x1="24.80" y1="237.30" x2="113.80" y2="237.30" stroke="#383838" stroke-width="1.05" />
<line x1="170.00" y1="237.30" x2="249.00" y2="237.30" stroke="#383838" stroke-width="1.05" />
<polyline points="244.40,234.50 249.60,237.30 244.40,240.10" fill="none" stroke="#2a2a2a" stroke-width="1.1" stroke-linejoin="miter"/>
<text x="124.00" y="241.70" font-size="10" text-anchor="start" font-weight="bold" fill="#111" stroke="#111" stroke-width="0.32" stroke-linejoin="round" >CD137L</text>
<line x1="275.40" y1="237.50" x2="364.60" y2="237.50" stroke="#383838" stroke-width="1.05" />
<line x1="420.00" y1="237.50" x2="499.60" y2="237.50" stroke="#383838" stroke-width="1.05" />
<polyline points="495.00,234.70 500.20,237.50 495.00,240.30" fill="none" stroke="#2a2a2a" stroke-width="1.1" stroke-linejoin="miter"/>
<text x="374.80" y="241.90" font-size="10" text-anchor="start" font-weight="bold" fill="#111" stroke="#111" stroke-width="0.32" stroke-linejoin="round" >CD137L</text>
<line x1="24.80" y1="342.80" x2="113.80" y2="342.80" stroke="#383838" stroke-width="1.05" />
<line x1="163.50" y1="342.80" x2="249.00" y2="342.80" stroke="#383838" stroke-width="1.05" />
<polyline points="244.40,340.00 249.60,342.80 244.40,345.60" fill="none" stroke="#2a2a2a" stroke-width="1.1" stroke-linejoin="miter"/>
<text x="124.00" y="347.20" font-size="10" text-anchor="start" font-weight="bold" fill="#111" stroke="#111" stroke-width="0.32" stroke-linejoin="round" >PKH-26</text>
<line x1="275.40" y1="343.20" x2="363.70" y2="343.20" stroke="#383838" stroke-width="1.05" />
<line x1="415.40" y1="343.20" x2="499.60" y2="343.20" stroke="#383838" stroke-width="1.05" />
<polyline points="495.00,340.40 500.20,343.20 495.00,346.00" fill="none" stroke="#2a2a2a" stroke-width="1.1" stroke-linejoin="miter"/>
<text x="374.80" y="347.60" font-size="10" text-anchor="start" font-weight="bold" fill="#111" stroke="#111" stroke-width="0.32" stroke-linejoin="round" >PKH-26</text>
<text x="25.70" y="24.20" font-size="12.5" text-anchor="start" font-weight="bold" fill="#111" stroke="#111" stroke-width="0.6" stroke-linejoin="round" >A</text>
<text x="274.30" y="24.20" font-size="12.5" text-anchor="start" font-weight="bold" fill="#111" stroke="#111" stroke-width="0.6" stroke-linejoin="round" >B</text>
<text x="95.40" y="27.60" font-size="10.4" text-anchor="start" font-weight="bold" fill="#111" stroke="#111" stroke-width="0.32" stroke-linejoin="round" textLength="92" lengthAdjust="spacingAndGlyphs">Donor: L-428 cells</text>
<text x="345.00" y="27.60" font-size="10.4" text-anchor="start" font-weight="bold" fill="#111" stroke="#111" stroke-width="0.32" stroke-linejoin="round" textLength="97.6" lengthAdjust="spacingAndGlyphs">Donor: L-1236 cells</text>
<text x="75.50" y="50.00" font-size="8.3" text-anchor="middle" font-weight="bold" fill="#111" stroke="#111" stroke-width="0.32" stroke-linejoin="round" >KMS-11-control</text>
<text x="196.50" y="50.00" font-size="8.3" text-anchor="middle" font-weight="bold" fill="#111" stroke="#111" stroke-width="0.32" stroke-linejoin="round" >KMS-11-CD137L</text>
<text x="326.50" y="50.00" font-size="8.3" text-anchor="middle" font-weight="bold" fill="#111" stroke="#111" stroke-width="0.32" stroke-linejoin="round" >KMS-11-control</text>
<text x="447.50" y="50.00" font-size="8.3" text-anchor="middle" font-weight="bold" fill="#111" stroke="#111" stroke-width="0.32" stroke-linejoin="round" >KMS-11-CD137L</text>
<rect x="20.00" y="359.5" width="16.30" height="5.5" fill="#c8c8c8"/>
<text x="42.40" y="365.00" font-size="8.9" text-anchor="start" font-weight="bold" fill="#111" stroke="#111" stroke-width="0.26" stroke-linejoin="round" textLength="50.80" lengthAdjust="spacingAndGlyphs">No coculture</text>
<text x="124.40" y="365.00" font-size="8.9" text-anchor="start" font-weight="bold" fill="#111" stroke="#111" stroke-width="0.26" stroke-linejoin="round" textLength="54.00" lengthAdjust="spacingAndGlyphs">L-428-control</text>
<text x="205.20" y="365.00" font-size="8.9" text-anchor="start" font-weight="bold" fill="#111" stroke="#111" stroke-width="0.26" stroke-linejoin="round" textLength="49.20" lengthAdjust="spacingAndGlyphs">L-428-CD137</text>
<line x1="106.00" y1="361.80" x2="120.00" y2="361.80" stroke="#333" stroke-width="1.0" />
<line x1="186.00" y1="361.80" x2="199.00" y2="361.80" stroke="#333" stroke-width="1.0" stroke-dasharray="3,2"/>
<rect x="267.50" y="359.5" width="15.50" height="5.5" fill="#c8c8c8"/>
<text x="288.30" y="365.00" font-size="8.9" text-anchor="start" font-weight="bold" fill="#111" stroke="#111" stroke-width="0.26" stroke-linejoin="round" textLength="51.30" lengthAdjust="spacingAndGlyphs">No coculture</text>
<text x="369.90" y="365.00" font-size="8.9" text-anchor="start" font-weight="bold" fill="#111" stroke="#111" stroke-width="0.26" stroke-linejoin="round" textLength="59.00" lengthAdjust="spacingAndGlyphs">L-1236-Control</text>
<text x="453.90" y="365.00" font-size="8.9" text-anchor="start" font-weight="bold" fill="#111" stroke="#111" stroke-width="0.26" stroke-linejoin="round" textLength="55.20" lengthAdjust="spacingAndGlyphs">L-1236-CD137</text>
<line x1="351.00" y1="361.80" x2="364.00" y2="361.80" stroke="#333" stroke-width="1.0" />
<line x1="434.00" y1="361.80" x2="447.00" y2="361.80" stroke="#333" stroke-width="1.0" stroke-dasharray="3,2"/>
<rect x="0.5" y="0.5" width="519" height="379" fill="none" stroke="#555" stroke-width="1"/>
</svg>
</body></html>
